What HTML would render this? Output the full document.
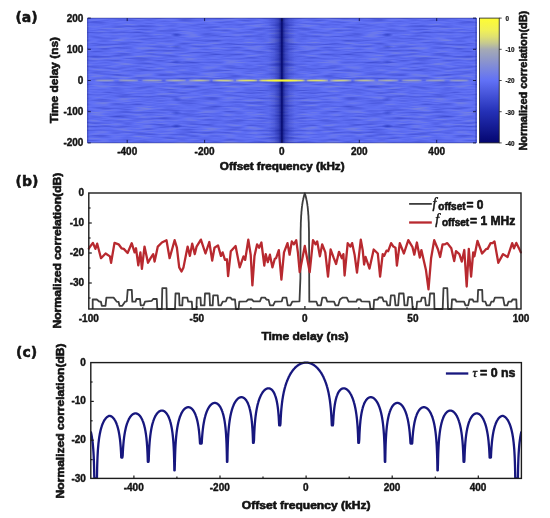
<!DOCTYPE html>
<html><head><meta charset="utf-8"><title>Figure</title>
<style>
html,body{margin:0;padding:0;background:#fff}
svg{display:block;filter:blur(0.4px)}
text{font-family:"Liberation Sans", Arial, Helvetica, sans-serif;font-weight:bold;fill:#141414;stroke:#141414;stroke-width:0.4px;stroke-linejoin:round}
.t{font-size:10px}
.l{font-size:10.6px;stroke-width:0.6px}
.p{font-size:14px;stroke-width:0.5px;font-family:"DejaVu Sans","Liberation Sans",sans-serif}
.it{font-family:"Liberation Serif", "Times New Roman", serif;font-style:italic;font-weight:normal;stroke-width:0.45px;font-size:14px}
</style></head><body>
<svg width="550" height="518" viewBox="0 0 550 518">
<rect width="550" height="518" fill="#fff"/>
<defs>
<filter id="hm" x="0" y="0" width="100%" height="100%" color-interpolation-filters="sRGB">
<feTurbulence type="fractalNoise" baseFrequency="0.045 0.5" numOctaves="2" seed="7" result="n"/>
<feColorMatrix in="n" type="matrix" values="1 0 0 0 0  1 0 0 0 0  1 0 0 0 0  0 0 0 0 1"/>
<feComponentTransfer>
<feFuncR type="table" tableValues="0.224 0.243 0.259 0.278 0.294 0.310 0.329 0.345 0.361 0.380 0.400 0.420 0.435 0.455 0.475 0.494 0.514"/>
<feFuncG type="table" tableValues="0.278 0.294 0.314 0.333 0.349 0.369 0.388 0.404 0.424 0.443 0.459 0.475 0.490 0.506 0.522 0.537 0.557"/>
<feFuncB type="table" tableValues="0.800 0.820 0.839 0.855 0.875 0.890 0.910 0.929 0.945 0.965 0.945 0.929 0.910 0.890 0.871 0.855 0.835"/>
</feComponentTransfer>
</filter>
<radialGradient id="sp"><stop offset="0" stop-color="#1a2ab0" stop-opacity="0.9"/><stop offset="1" stop-color="#1a2ab0" stop-opacity="0"/></radialGradient>
<linearGradient id="cb" x1="0" y1="1" x2="0" y2="0">
<stop offset="0.000" stop-color="#040670"/>
<stop offset="0.050" stop-color="#0a0e7e"/>
<stop offset="0.100" stop-color="#11178c"/>
<stop offset="0.150" stop-color="#171f9a"/>
<stop offset="0.200" stop-color="#1e28a8"/>
<stop offset="0.250" stop-color="#2430b6"/>
<stop offset="0.300" stop-color="#303dc3"/>
<stop offset="0.350" stop-color="#3c4ad0"/>
<stop offset="0.400" stop-color="#4957dc"/>
<stop offset="0.450" stop-color="#5564e9"/>
<stop offset="0.500" stop-color="#6171f6"/>
<stop offset="0.550" stop-color="#6f7ce9"/>
<stop offset="0.600" stop-color="#7c88dc"/>
<stop offset="0.650" stop-color="#8a93ce"/>
<stop offset="0.700" stop-color="#979fc1"/>
<stop offset="0.750" stop-color="#a5aab4"/>
<stop offset="0.800" stop-color="#c6c98f"/>
<stop offset="0.850" stop-color="#dfe071"/>
<stop offset="0.900" stop-color="#f0f058"/>
<stop offset="0.950" stop-color="#f7f645"/>
<stop offset="1.000" stop-color="#fefd32"/>
</linearGradient>
<linearGradient id="vs" x1="0" y1="0" x2="1" y2="0">
<stop offset="0" stop-color="#0a1080" stop-opacity="0"/>
<stop offset="0.2" stop-color="#0a1080" stop-opacity="0.12"/>
<stop offset="0.36" stop-color="#0a1080" stop-opacity="0.32"/>
<stop offset="0.44" stop-color="#081078" stop-opacity="0.58"/>
<stop offset="0.5" stop-color="#04066a" stop-opacity="1"/>
<stop offset="0.56" stop-color="#081078" stop-opacity="0.58"/>
<stop offset="0.64" stop-color="#0a1080" stop-opacity="0.32"/>
<stop offset="0.8" stop-color="#0a1080" stop-opacity="0.12"/>
<stop offset="1" stop-color="#0a1080" stop-opacity="0"/>
</linearGradient>
</defs>
<rect x="87.8" y="18.1" width="388.2" height="124.8" fill="#5e6ef3"/>
<rect id="hl" x="87.8" y="18.1" width="194.6" height="124.8" fill="#5e6ef3" filter="url(#hm)"/>
<use href="#hl" transform="translate(563.90 0) scale(-1 1)"/>
<ellipse cx="176.4" cy="34.9" rx="6" ry="2.2" fill="url(#sp)" opacity="0.64"/>
<ellipse cx="176.4" cy="46.9" rx="6" ry="2.2" fill="url(#sp)" opacity="0.44"/>
<ellipse cx="176.4" cy="61.7" rx="6" ry="2.2" fill="url(#sp)" opacity="0.4"/>
<ellipse cx="176.4" cy="99.2" rx="6" ry="2.2" fill="url(#sp)" opacity="0.4"/>
<ellipse cx="176.4" cy="113" rx="6" ry="2.2" fill="url(#sp)" opacity="0.5"/>
<ellipse cx="176.4" cy="126" rx="6" ry="2.2" fill="url(#sp)" opacity="0.68"/>
<ellipse cx="387.5" cy="34.9" rx="6" ry="2.2" fill="url(#sp)" opacity="0.64"/>
<ellipse cx="387.5" cy="46.9" rx="6" ry="2.2" fill="url(#sp)" opacity="0.44"/>
<ellipse cx="387.5" cy="61.7" rx="6" ry="2.2" fill="url(#sp)" opacity="0.4"/>
<ellipse cx="387.5" cy="99.2" rx="6" ry="2.2" fill="url(#sp)" opacity="0.4"/>
<ellipse cx="387.5" cy="113" rx="6" ry="2.2" fill="url(#sp)" opacity="0.5"/>
<ellipse cx="387.5" cy="126" rx="6" ry="2.2" fill="url(#sp)" opacity="0.68"/>
<rect x="255.9" y="18.1" width="52" height="124.8" fill="url(#vs)" opacity="0.3"/>
<rect x="268.9" y="18.1" width="26" height="124.8" fill="url(#vs)"/>
<linearGradient id="sl" x1="0" y1="0" x2="1" y2="0"><stop offset="0.0020" stop-color="#838ed5" stop-opacity="0.79"/><stop offset="0.0060" stop-color="#7380e4" stop-opacity="0.26"/><stop offset="0.0100" stop-color="#4b5adf" stop-opacity="0.00"/><stop offset="0.0140" stop-color="#6272f5" stop-opacity="0.00"/><stop offset="0.0180" stop-color="#7c87dc" stop-opacity="0.54"/><stop offset="0.0220" stop-color="#8992d0" stop-opacity="0.85"/><stop offset="0.0260" stop-color="#9199c8" stop-opacity="0.85"/><stop offset="0.0300" stop-color="#969ec2" stop-opacity="0.85"/><stop offset="0.0340" stop-color="#9aa1bf" stop-opacity="0.85"/><stop offset="0.0380" stop-color="#9ca2bd" stop-opacity="0.85"/><stop offset="0.0420" stop-color="#9da3bc" stop-opacity="0.85"/><stop offset="0.0460" stop-color="#9ca3bc" stop-opacity="0.85"/><stop offset="0.0500" stop-color="#9aa1be" stop-opacity="0.85"/><stop offset="0.0540" stop-color="#979ec1" stop-opacity="0.85"/><stop offset="0.0580" stop-color="#929ac6" stop-opacity="0.85"/><stop offset="0.0620" stop-color="#8a93ce" stop-opacity="0.85"/><stop offset="0.0660" stop-color="#7c88db" stop-opacity="0.57"/><stop offset="0.0700" stop-color="#6070f5" stop-opacity="0.00"/><stop offset="0.0740" stop-color="#5867ec" stop-opacity="0.00"/><stop offset="0.0780" stop-color="#7a86dd" stop-opacity="0.50"/><stop offset="0.0820" stop-color="#8a93cf" stop-opacity="0.85"/><stop offset="0.0860" stop-color="#939bc6" stop-opacity="0.85"/><stop offset="0.0900" stop-color="#99a0c0" stop-opacity="0.85"/><stop offset="0.0940" stop-color="#9da3bc" stop-opacity="0.85"/><stop offset="0.0980" stop-color="#a0a5b9" stop-opacity="0.85"/><stop offset="0.1020" stop-color="#a1a6b8" stop-opacity="0.85"/><stop offset="0.1060" stop-color="#a1a6b8" stop-opacity="0.85"/><stop offset="0.1100" stop-color="#9fa5b9" stop-opacity="0.85"/><stop offset="0.1140" stop-color="#9da3bc" stop-opacity="0.85"/><stop offset="0.1180" stop-color="#989fc1" stop-opacity="0.85"/><stop offset="0.1220" stop-color="#9199c8" stop-opacity="0.85"/><stop offset="0.1260" stop-color="#8590d3" stop-opacity="0.87"/><stop offset="0.1300" stop-color="#6f7de8" stop-opacity="0.14"/><stop offset="0.1340" stop-color="#404ed4" stop-opacity="0.00"/><stop offset="0.1380" stop-color="#7985df" stop-opacity="0.45"/><stop offset="0.1420" stop-color="#8b94cd" stop-opacity="0.85"/><stop offset="0.1460" stop-color="#959dc3" stop-opacity="0.85"/><stop offset="0.1500" stop-color="#9ca3bc" stop-opacity="0.85"/><stop offset="0.1540" stop-color="#a1a7b8" stop-opacity="0.85"/><stop offset="0.1580" stop-color="#a4a9b5" stop-opacity="0.85"/><stop offset="0.1620" stop-color="#a6abb3" stop-opacity="0.85"/><stop offset="0.1660" stop-color="#a7acb2" stop-opacity="0.85"/><stop offset="0.1700" stop-color="#a5aab4" stop-opacity="0.85"/><stop offset="0.1740" stop-color="#a3a8b6" stop-opacity="0.85"/><stop offset="0.1780" stop-color="#9fa5ba" stop-opacity="0.85"/><stop offset="0.1820" stop-color="#989fc0" stop-opacity="0.85"/><stop offset="0.1860" stop-color="#8e97ca" stop-opacity="0.85"/><stop offset="0.1900" stop-color="#7d88db" stop-opacity="0.58"/><stop offset="0.1940" stop-color="#404ed4" stop-opacity="0.00"/><stop offset="0.1980" stop-color="#7683e1" stop-opacity="0.36"/><stop offset="0.2020" stop-color="#8d95cc" stop-opacity="0.85"/><stop offset="0.2060" stop-color="#99a0c0" stop-opacity="0.85"/><stop offset="0.2100" stop-color="#a0a6b9" stop-opacity="0.85"/><stop offset="0.2140" stop-color="#a6abb2" stop-opacity="0.85"/><stop offset="0.2180" stop-color="#afb3a9" stop-opacity="0.85"/><stop offset="0.2220" stop-color="#b4b8a4" stop-opacity="0.85"/><stop offset="0.2260" stop-color="#b6b9a2" stop-opacity="0.85"/><stop offset="0.2300" stop-color="#b5b8a3" stop-opacity="0.85"/><stop offset="0.2340" stop-color="#b0b4a8" stop-opacity="0.85"/><stop offset="0.2380" stop-color="#a8acb1" stop-opacity="0.85"/><stop offset="0.2420" stop-color="#a1a6b8" stop-opacity="0.85"/><stop offset="0.2460" stop-color="#989fc1" stop-opacity="0.85"/><stop offset="0.2500" stop-color="#8993cf" stop-opacity="0.85"/><stop offset="0.2540" stop-color="#6575f2" stop-opacity="0.00"/><stop offset="0.2580" stop-color="#727fe6" stop-opacity="0.21"/><stop offset="0.2620" stop-color="#8f97ca" stop-opacity="0.85"/><stop offset="0.2660" stop-color="#9da3bc" stop-opacity="0.85"/><stop offset="0.2700" stop-color="#a6abb3" stop-opacity="0.85"/><stop offset="0.2740" stop-color="#b5b8a3" stop-opacity="0.85"/><stop offset="0.2780" stop-color="#bfc198" stop-opacity="0.85"/><stop offset="0.2820" stop-color="#c5c791" stop-opacity="0.85"/><stop offset="0.2860" stop-color="#c8ca8e" stop-opacity="0.85"/><stop offset="0.2900" stop-color="#c8ca8e" stop-opacity="0.85"/><stop offset="0.2940" stop-color="#c4c791" stop-opacity="0.85"/><stop offset="0.2980" stop-color="#bec199" stop-opacity="0.85"/><stop offset="0.3020" stop-color="#b2b6a6" stop-opacity="0.85"/><stop offset="0.3060" stop-color="#a3a8b6" stop-opacity="0.85"/><stop offset="0.3100" stop-color="#979ec2" stop-opacity="0.85"/><stop offset="0.3140" stop-color="#7d88db" stop-opacity="0.59"/><stop offset="0.3180" stop-color="#6877ef" stop-opacity="0.00"/><stop offset="0.3220" stop-color="#929ac7" stop-opacity="0.85"/><stop offset="0.3260" stop-color="#a2a8b7" stop-opacity="0.85"/><stop offset="0.3300" stop-color="#b7bba0" stop-opacity="0.85"/><stop offset="0.3340" stop-color="#c8ca8e" stop-opacity="0.85"/><stop offset="0.3380" stop-color="#d3d581" stop-opacity="0.85"/><stop offset="0.3420" stop-color="#d9da7a" stop-opacity="0.85"/><stop offset="0.3460" stop-color="#dbdc77" stop-opacity="0.85"/><stop offset="0.3500" stop-color="#dcdd76" stop-opacity="0.85"/><stop offset="0.3540" stop-color="#dbdc77" stop-opacity="0.85"/><stop offset="0.3580" stop-color="#d8d97b" stop-opacity="0.85"/><stop offset="0.3620" stop-color="#d0d284" stop-opacity="0.85"/><stop offset="0.3660" stop-color="#c1c495" stop-opacity="0.85"/><stop offset="0.3700" stop-color="#a8adb1" stop-opacity="0.85"/><stop offset="0.3740" stop-color="#929ac6" stop-opacity="0.85"/><stop offset="0.3780" stop-color="#404ed4" stop-opacity="0.00"/><stop offset="0.3820" stop-color="#979ec1" stop-opacity="0.85"/><stop offset="0.3860" stop-color="#b5b8a3" stop-opacity="0.85"/><stop offset="0.3900" stop-color="#d1d383" stop-opacity="0.85"/><stop offset="0.3940" stop-color="#dedf73" stop-opacity="0.85"/><stop offset="0.3980" stop-color="#e5e569" stop-opacity="0.88"/><stop offset="0.4020" stop-color="#eaea61" stop-opacity="0.88"/><stop offset="0.4060" stop-color="#eded5d" stop-opacity="0.88"/><stop offset="0.4100" stop-color="#efef5a" stop-opacity="0.88"/><stop offset="0.4140" stop-color="#efef5a" stop-opacity="0.88"/><stop offset="0.4180" stop-color="#edee5c" stop-opacity="0.88"/><stop offset="0.4220" stop-color="#eaea61" stop-opacity="0.88"/><stop offset="0.4260" stop-color="#e4e569" stop-opacity="0.88"/><stop offset="0.4300" stop-color="#dadb78" stop-opacity="0.85"/><stop offset="0.4340" stop-color="#b8bc9f" stop-opacity="0.85"/><stop offset="0.4380" stop-color="#7d88db" stop-opacity="0.59"/><stop offset="0.4420" stop-color="#a3a9b6" stop-opacity="0.85"/><stop offset="0.4460" stop-color="#dcdd76" stop-opacity="0.85"/><stop offset="0.4500" stop-color="#eeee5b" stop-opacity="0.88"/><stop offset="0.4540" stop-color="#f4f44c" stop-opacity="0.88"/><stop offset="0.4580" stop-color="#efef5a" stop-opacity="0.88"/><stop offset="0.4620" stop-color="#f3f251" stop-opacity="0.95"/><stop offset="0.4660" stop-color="#f5f54a" stop-opacity="0.95"/><stop offset="0.4700" stop-color="#f7f744" stop-opacity="0.95"/><stop offset="0.4740" stop-color="#f9f93f" stop-opacity="0.95"/><stop offset="0.4780" stop-color="#fbfa3b" stop-opacity="0.95"/><stop offset="0.4820" stop-color="#fcfb38" stop-opacity="0.95"/><stop offset="0.4860" stop-color="#fdfc36" stop-opacity="0.95"/><stop offset="0.4900" stop-color="#fdfc34" stop-opacity="0.95"/><stop offset="0.4940" stop-color="#fefd33" stop-opacity="0.95"/><stop offset="0.4980" stop-color="#fefd32" stop-opacity="0.95"/><stop offset="0.5020" stop-color="#fefd32" stop-opacity="0.95"/><stop offset="0.5060" stop-color="#fefd33" stop-opacity="0.95"/><stop offset="0.5100" stop-color="#fdfc34" stop-opacity="0.95"/><stop offset="0.5140" stop-color="#fdfc36" stop-opacity="0.95"/><stop offset="0.5180" stop-color="#fcfb38" stop-opacity="0.95"/><stop offset="0.5220" stop-color="#fbfa3b" stop-opacity="0.95"/><stop offset="0.5260" stop-color="#f9f93f" stop-opacity="0.95"/><stop offset="0.5300" stop-color="#f7f744" stop-opacity="0.95"/><stop offset="0.5340" stop-color="#f5f54a" stop-opacity="0.95"/><stop offset="0.5380" stop-color="#f3f251" stop-opacity="0.95"/><stop offset="0.5420" stop-color="#efef5a" stop-opacity="0.88"/><stop offset="0.5460" stop-color="#f4f44c" stop-opacity="0.88"/><stop offset="0.5500" stop-color="#eeee5b" stop-opacity="0.88"/><stop offset="0.5540" stop-color="#dcdd76" stop-opacity="0.85"/><stop offset="0.5580" stop-color="#a3a9b6" stop-opacity="0.85"/><stop offset="0.5620" stop-color="#7d88db" stop-opacity="0.59"/><stop offset="0.5660" stop-color="#b8bc9f" stop-opacity="0.85"/><stop offset="0.5700" stop-color="#dadb78" stop-opacity="0.85"/><stop offset="0.5740" stop-color="#e4e569" stop-opacity="0.88"/><stop offset="0.5780" stop-color="#eaea61" stop-opacity="0.88"/><stop offset="0.5820" stop-color="#edee5c" stop-opacity="0.88"/><stop offset="0.5860" stop-color="#efef5a" stop-opacity="0.88"/><stop offset="0.5900" stop-color="#efef5a" stop-opacity="0.88"/><stop offset="0.5940" stop-color="#eded5d" stop-opacity="0.88"/><stop offset="0.5980" stop-color="#eaea61" stop-opacity="0.88"/><stop offset="0.6020" stop-color="#e5e569" stop-opacity="0.88"/><stop offset="0.6060" stop-color="#dedf73" stop-opacity="0.85"/><stop offset="0.6100" stop-color="#d1d383" stop-opacity="0.85"/><stop offset="0.6140" stop-color="#b5b8a3" stop-opacity="0.85"/><stop offset="0.6180" stop-color="#979ec1" stop-opacity="0.85"/><stop offset="0.6220" stop-color="#404ed4" stop-opacity="0.00"/><stop offset="0.6260" stop-color="#929ac6" stop-opacity="0.85"/><stop offset="0.6300" stop-color="#a8adb1" stop-opacity="0.85"/><stop offset="0.6340" stop-color="#c1c495" stop-opacity="0.85"/><stop offset="0.6380" stop-color="#d0d284" stop-opacity="0.85"/><stop offset="0.6420" stop-color="#d8d97b" stop-opacity="0.85"/><stop offset="0.6460" stop-color="#dbdc77" stop-opacity="0.85"/><stop offset="0.6500" stop-color="#dcdd76" stop-opacity="0.85"/><stop offset="0.6540" stop-color="#dbdc77" stop-opacity="0.85"/><stop offset="0.6580" stop-color="#d9da7a" stop-opacity="0.85"/><stop offset="0.6620" stop-color="#d3d581" stop-opacity="0.85"/><stop offset="0.6660" stop-color="#c8ca8e" stop-opacity="0.85"/><stop offset="0.6700" stop-color="#b7bba0" stop-opacity="0.85"/><stop offset="0.6740" stop-color="#a2a8b7" stop-opacity="0.85"/><stop offset="0.6780" stop-color="#929ac7" stop-opacity="0.85"/><stop offset="0.6820" stop-color="#6877ef" stop-opacity="0.00"/><stop offset="0.6860" stop-color="#7d88db" stop-opacity="0.59"/><stop offset="0.6900" stop-color="#979ec2" stop-opacity="0.85"/><stop offset="0.6940" stop-color="#a3a8b6" stop-opacity="0.85"/><stop offset="0.6980" stop-color="#b2b6a6" stop-opacity="0.85"/><stop offset="0.7020" stop-color="#bec199" stop-opacity="0.85"/><stop offset="0.7060" stop-color="#c4c791" stop-opacity="0.85"/><stop offset="0.7100" stop-color="#c8ca8e" stop-opacity="0.85"/><stop offset="0.7140" stop-color="#c8ca8e" stop-opacity="0.85"/><stop offset="0.7180" stop-color="#c5c791" stop-opacity="0.85"/><stop offset="0.7220" stop-color="#bfc198" stop-opacity="0.85"/><stop offset="0.7260" stop-color="#b5b8a3" stop-opacity="0.85"/><stop offset="0.7300" stop-color="#a6abb3" stop-opacity="0.85"/><stop offset="0.7340" stop-color="#9da3bc" stop-opacity="0.85"/><stop offset="0.7380" stop-color="#8f97ca" stop-opacity="0.85"/><stop offset="0.7420" stop-color="#727fe6" stop-opacity="0.21"/><stop offset="0.7460" stop-color="#6575f2" stop-opacity="0.00"/><stop offset="0.7500" stop-color="#8993cf" stop-opacity="0.85"/><stop offset="0.7540" stop-color="#989fc1" stop-opacity="0.85"/><stop offset="0.7580" stop-color="#a1a6b8" stop-opacity="0.85"/><stop offset="0.7620" stop-color="#a8acb1" stop-opacity="0.85"/><stop offset="0.7660" stop-color="#b0b4a8" stop-opacity="0.85"/><stop offset="0.7700" stop-color="#b5b8a3" stop-opacity="0.85"/><stop offset="0.7740" stop-color="#b6b9a2" stop-opacity="0.85"/><stop offset="0.7780" stop-color="#b4b8a4" stop-opacity="0.85"/><stop offset="0.7820" stop-color="#afb3a9" stop-opacity="0.85"/><stop offset="0.7860" stop-color="#a6abb2" stop-opacity="0.85"/><stop offset="0.7900" stop-color="#a0a6b9" stop-opacity="0.85"/><stop offset="0.7940" stop-color="#99a0c0" stop-opacity="0.85"/><stop offset="0.7980" stop-color="#8d95cc" stop-opacity="0.85"/><stop offset="0.8020" stop-color="#7683e1" stop-opacity="0.36"/><stop offset="0.8060" stop-color="#404ed4" stop-opacity="0.00"/><stop offset="0.8100" stop-color="#7d88db" stop-opacity="0.58"/><stop offset="0.8140" stop-color="#8e97ca" stop-opacity="0.85"/><stop offset="0.8180" stop-color="#989fc0" stop-opacity="0.85"/><stop offset="0.8220" stop-color="#9fa5ba" stop-opacity="0.85"/><stop offset="0.8260" stop-color="#a3a8b6" stop-opacity="0.85"/><stop offset="0.8300" stop-color="#a5aab4" stop-opacity="0.85"/><stop offset="0.8340" stop-color="#a7acb2" stop-opacity="0.85"/><stop offset="0.8380" stop-color="#a6abb3" stop-opacity="0.85"/><stop offset="0.8420" stop-color="#a4a9b5" stop-opacity="0.85"/><stop offset="0.8460" stop-color="#a1a7b8" stop-opacity="0.85"/><stop offset="0.8500" stop-color="#9ca3bc" stop-opacity="0.85"/><stop offset="0.8540" stop-color="#959dc3" stop-opacity="0.85"/><stop offset="0.8580" stop-color="#8b94cd" stop-opacity="0.85"/><stop offset="0.8620" stop-color="#7985df" stop-opacity="0.45"/><stop offset="0.8660" stop-color="#404ed4" stop-opacity="0.00"/><stop offset="0.8700" stop-color="#6f7de8" stop-opacity="0.14"/><stop offset="0.8740" stop-color="#8590d3" stop-opacity="0.87"/><stop offset="0.8780" stop-color="#9199c8" stop-opacity="0.85"/><stop offset="0.8820" stop-color="#989fc1" stop-opacity="0.85"/><stop offset="0.8860" stop-color="#9da3bc" stop-opacity="0.85"/><stop offset="0.8900" stop-color="#9fa5b9" stop-opacity="0.85"/><stop offset="0.8940" stop-color="#a1a6b8" stop-opacity="0.85"/><stop offset="0.8980" stop-color="#a1a6b8" stop-opacity="0.85"/><stop offset="0.9020" stop-color="#a0a5b9" stop-opacity="0.85"/><stop offset="0.9060" stop-color="#9da3bc" stop-opacity="0.85"/><stop offset="0.9100" stop-color="#99a0c0" stop-opacity="0.85"/><stop offset="0.9140" stop-color="#939bc6" stop-opacity="0.85"/><stop offset="0.9180" stop-color="#8a93cf" stop-opacity="0.85"/><stop offset="0.9220" stop-color="#7a86dd" stop-opacity="0.50"/><stop offset="0.9260" stop-color="#5867ec" stop-opacity="0.00"/><stop offset="0.9300" stop-color="#6070f5" stop-opacity="0.00"/><stop offset="0.9340" stop-color="#7c88db" stop-opacity="0.57"/><stop offset="0.9380" stop-color="#8a93ce" stop-opacity="0.85"/><stop offset="0.9420" stop-color="#929ac6" stop-opacity="0.85"/><stop offset="0.9460" stop-color="#979ec1" stop-opacity="0.85"/><stop offset="0.9500" stop-color="#9aa1be" stop-opacity="0.85"/><stop offset="0.9540" stop-color="#9ca3bc" stop-opacity="0.85"/><stop offset="0.9580" stop-color="#9da3bc" stop-opacity="0.85"/><stop offset="0.9620" stop-color="#9ca2bd" stop-opacity="0.85"/><stop offset="0.9660" stop-color="#9aa1bf" stop-opacity="0.85"/><stop offset="0.9700" stop-color="#969ec2" stop-opacity="0.85"/><stop offset="0.9740" stop-color="#9199c8" stop-opacity="0.85"/><stop offset="0.9780" stop-color="#8992d0" stop-opacity="0.85"/><stop offset="0.9820" stop-color="#7c87dc" stop-opacity="0.54"/><stop offset="0.9860" stop-color="#6272f5" stop-opacity="0.00"/><stop offset="0.9900" stop-color="#4b5adf" stop-opacity="0.00"/><stop offset="0.9940" stop-color="#7380e4" stop-opacity="0.26"/><stop offset="0.9980" stop-color="#838ed5" stop-opacity="0.79"/></linearGradient>
<linearGradient id="sl2" x1="0" y1="0" x2="1" y2="0"><stop offset="0" stop-color="#fdfc32" stop-opacity="0"/><stop offset="0.3" stop-color="#fdfc32" stop-opacity="1"/><stop offset="0.7" stop-color="#fdfc32" stop-opacity="1"/><stop offset="1" stop-color="#fdfc32" stop-opacity="0"/></linearGradient>
<rect x="88.55" y="79.60" width="386.80" height="1.8" fill="url(#sl)"/>
<rect x="266.5" y="79.50" width="30.9" height="2.0" fill="url(#sl2)" opacity="0.6"/>
<rect x="87.8" y="18.1" width="388.2" height="124.8" fill="none" stroke="#1a1f6a" stroke-opacity="0.55" stroke-width="0.8"/>
<path d="M127.2 142.9v-3M127.2 18.1v3" stroke="#10144a" stroke-width="0.9"/>
<text x="127.2" y="155.1" class="t" text-anchor="middle">-400</text>
<path d="M204.6 142.9v-3M204.6 18.1v3" stroke="#10144a" stroke-width="0.9"/>
<text x="204.6" y="155.1" class="t" text-anchor="middle">-200</text>
<path d="M281.9 142.9v-3M281.9 18.1v3" stroke="#10144a" stroke-width="0.9"/>
<text x="281.9" y="155.1" class="t" text-anchor="middle">0</text>
<path d="M359.3 142.9v-3M359.3 18.1v3" stroke="#10144a" stroke-width="0.9"/>
<text x="359.3" y="155.1" class="t" text-anchor="middle">200</text>
<path d="M436.7 142.9v-3M436.7 18.1v3" stroke="#10144a" stroke-width="0.9"/>
<text x="436.7" y="155.1" class="t" text-anchor="middle">400</text>
<path d="M87.8 18.1h3M476.0 18.1h-3" stroke="#10144a" stroke-width="0.9"/>
<text x="83.4" y="21.5" class="t" text-anchor="end">200</text>
<path d="M87.8 49.3h3M476.0 49.3h-3" stroke="#10144a" stroke-width="0.9"/>
<text x="83.4" y="52.7" class="t" text-anchor="end">100</text>
<path d="M87.8 80.5h3M476.0 80.5h-3" stroke="#10144a" stroke-width="0.9"/>
<text x="83.4" y="83.9" class="t" text-anchor="end">0</text>
<path d="M87.8 111.7h3M476.0 111.7h-3" stroke="#10144a" stroke-width="0.9"/>
<text x="83.4" y="115.1" class="t" text-anchor="end">-100</text>
<path d="M87.8 142.9h3M476.0 142.9h-3" stroke="#10144a" stroke-width="0.9"/>
<text x="83.4" y="146.3" class="t" text-anchor="end">-200</text>
<text x="219.8" y="169.6" class="l" textLength="124.8" lengthAdjust="spacingAndGlyphs">Offset frequency (kHz)</text>
<text transform="translate(58.1 123.3) rotate(-90)" class="l" textLength="86.3" lengthAdjust="spacingAndGlyphs">Time delay (ns)</text>
<text x="15.4" y="22" class="p">(a)</text>
<rect x="479.4" y="18.1" width="19.8" height="124.8" fill="url(#cb)" stroke="#1c1c1c" stroke-width="0.8"/>
<path d="M499.2 18.1h2.5" stroke="#1c1c1c" stroke-width="0.8"/>
<text x="505.5" y="21.0" class="t" style="font-size:6.3px;stroke-width:0.2px">0</text>
<path d="M499.2 49.3h2.5" stroke="#1c1c1c" stroke-width="0.8"/>
<text x="505.5" y="52.2" class="t" style="font-size:6.3px;stroke-width:0.2px">-10</text>
<path d="M499.2 80.5h2.5" stroke="#1c1c1c" stroke-width="0.8"/>
<text x="505.5" y="83.4" class="t" style="font-size:6.3px;stroke-width:0.2px">-20</text>
<path d="M499.2 111.7h2.5" stroke="#1c1c1c" stroke-width="0.8"/>
<text x="505.5" y="114.6" class="t" style="font-size:6.3px;stroke-width:0.2px">-30</text>
<path d="M499.2 142.9h2.5" stroke="#1c1c1c" stroke-width="0.8"/>
<text x="505.5" y="145.8" class="t" style="font-size:6.3px;stroke-width:0.2px">-40</text>
<text transform="translate(527.3 80.7) rotate(-90)" class="l" text-anchor="middle" style="font-size:10.9px">Normalized correlation(dB)</text>
<rect x="88.8" y="193.0" width="432.2" height="116.0" fill="#fff"/>
<polyline points="92.7,309.0 92.7,299.5 96.8,299.5 99.5,301.7 100.9,301.7 101.8,305.8 105.5,305.8 106.4,297.6 113.6,297.6 116.8,301.7 118.6,302.0 119.5,305.8 122.3,305.8 125.0,301.7 126.8,301.3 127.7,289.9 131.8,289.9 132.3,301.7 135.5,301.7 136.4,299.0 140.0,299.0 140.7,305.4 143.6,305.4 145.0,301.7 151.8,300.8 153.2,299.0 156.8,299.0 157.3,309.0 161.8,309.0 162.3,288.1 166.4,288.1 166.8,309.0 175.0,309.0 175.5,293.5 179.1,293.5 179.5,305.4 182.3,305.4 182.7,297.6 187.3,297.6 188.2,301.7 191.8,301.7 192.3,309.0 196.4,309.0 196.8,297.6 200.5,297.6 200.9,305.4 204.5,305.4 205.0,293.5 209.5,293.5 210.0,305.4 212.7,305.4 213.2,295.4 217.7,295.4 218.5,305.4 220.9,305.4 222.7,301.7 225.9,301.3 227.3,297.6 230.5,297.6 231.8,299.5 235.0,299.5 235.9,309.0 238.6,309.0 239.3,301.7 246.4,301.3 248.2,299.5 251.8,299.5 253.6,301.3 260.0,301.3 261.4,297.6 265.0,297.6 266.4,299.5 268.6,299.9 270.0,305.4 273.2,305.4 275.0,301.7 281.8,301.3 282.7,297.6 286.4,297.6 287.7,305.4 290.5,305.4 292.3,301.7 299.5,301.3 300.4,278.1 300.5,245.6 300.6,237.2 300.6,232.1 300.7,228.4 300.8,225.6 300.8,223.2 300.9,221.2 301.0,219.5 301.1,218.0 301.1,216.6 301.2,215.4 301.3,214.3 301.4,213.3 301.4,212.3 301.5,211.4 301.6,210.6 301.7,209.8 301.7,209.0 301.8,208.3 301.9,207.7 301.9,207.0 302.0,206.4 302.1,205.9 302.2,205.3 302.2,204.8 302.3,204.3 302.4,203.8 302.5,203.3 302.5,202.9 302.6,202.4 302.7,202.0 302.7,201.6 302.8,201.2 302.9,200.8 303.0,200.4 303.0,200.0 303.1,199.7 303.2,199.3 303.3,199.0 303.3,198.7 303.4,198.4 303.5,198.0 303.6,197.7 303.6,197.4 303.7,197.1 303.8,196.9 303.8,196.6 303.9,196.3 304.0,196.0 304.1,195.8 304.1,195.5 304.2,195.3 304.3,195.0 304.4,194.8 304.4,194.5 304.5,194.3 304.6,194.1 304.7,193.8 304.7,193.6 304.8,193.4 304.9,193.6 304.9,193.8 305.0,194.1 305.1,194.3 305.2,194.5 305.2,194.8 305.3,195.0 305.4,195.3 305.5,195.5 305.5,195.8 305.6,196.0 305.7,196.3 305.8,196.6 305.8,196.9 305.9,197.1 306.0,197.4 306.0,197.7 306.1,198.0 306.2,198.4 306.3,198.7 306.3,199.0 306.4,199.3 306.5,199.7 306.6,200.0 306.6,200.4 306.7,200.8 306.8,201.2 306.9,201.6 306.9,202.0 307.0,202.4 307.1,202.9 307.1,203.3 307.2,203.8 307.3,204.3 307.4,204.8 307.4,205.3 307.5,205.9 307.6,206.4 307.7,207.0 307.7,207.7 307.8,208.3 307.9,209.0 307.9,209.8 308.0,210.6 308.1,211.4 308.2,212.3 308.2,213.3 308.3,214.3 308.4,215.4 308.5,216.6 308.5,218.0 308.6,219.5 308.7,221.2 308.8,223.2 308.8,225.6 308.9,228.4 309.0,232.1 309.0,237.2 309.1,245.6 309.2,278.1 309.3,301.7 316.4,301.7 317.7,305.4 320.9,305.4 322.3,297.6 325.9,297.6 327.3,301.7 334.1,301.7 335.5,305.4 338.2,305.4 340.0,299.5 342.7,297.6 346.8,297.6 348.6,301.7 356.4,301.7 357.3,299.5 360.5,299.5 361.4,301.3 369.5,301.7 370.5,309.0 373.5,309.0 374.1,299.9 377.7,299.5 378.9,297.5 382.3,297.5 383.6,301.3 386.4,301.3 387.3,305.4 390.0,305.4 390.9,295.4 394.5,295.4 395.5,305.4 398.2,305.4 399.1,293.5 403.6,293.5 404.5,305.4 407.3,305.4 408.2,297.2 411.8,297.2 412.7,309.0 416.4,309.0 417.1,301.7 420.9,301.3 421.8,297.6 425.0,297.6 425.9,305.4 429.1,305.4 430.0,293.5 434.1,293.5 434.5,309.0 442.7,309.0 443.5,288.1 447.3,288.1 448.0,309.0 451.4,309.0 452.0,299.5 455.5,299.5 456.4,301.7 464.1,301.7 465.5,305.4 468.2,305.4 469.5,299.5 472.7,299.5 473.6,301.7 477.6,301.7 478.1,289.9 482.2,289.9 482.6,301.3 485.4,301.7 486.7,305.4 489.9,305.4 491.3,301.7 493.5,301.7 494.9,297.6 503.1,297.6 504.5,305.4 507.2,305.4 508.5,301.7 511.3,301.7 512.6,299.5 516.3,299.5 516.7,309.0" fill="none" stroke="#3e3e3e" stroke-width="1.8" stroke-linejoin="round"/>
<polyline points="88.9,248.6 89.6,247.2 92.9,242.9 95.4,248.9 97.2,243.7 101.0,258.2 105.6,253.5 109.9,256.4 111.1,262.8 114.5,242.9 118.6,244.3 121.5,248.3 123.8,248.9 127.6,253.0 131.7,243.2 134.6,252.4 136.0,248.3 138.3,265.3 140.4,252.4 141.9,268.8 144.5,246.6 148.0,262.8 150.9,257.6 153.2,254.1 154.6,261.6 157.8,246.6 161.9,242.5 166.5,240.2 169.6,258.2 174.6,240.2 176.9,247.7 179.2,267.4 181.5,271.5 183.5,267.4 187.6,246.6 189.9,255.9 192.2,243.7 194.8,254.1 196.6,246.6 200.9,239.6 205.5,253.5 209.3,242.0 212.2,260.5 214.5,247.7 218.0,245.4 220.9,255.9 222.6,252.4 225.0,259.9 226.9,259.3 228.1,276.1 230.8,251.2 235.6,246.0 239.7,267.4 243.5,256.4 245.2,259.9 248.3,239.6 250.7,254.7 252.4,285.4 254.5,255.9 257.1,244.3 259.1,247.7 261.4,242.5 264.3,265.7 265.7,254.1 267.8,262.2 269.9,254.7 272.4,267.4 274.8,258.7 276.1,258.2 278.8,250.1 281.4,279.6 284.0,252.4 287.5,243.1 289.6,254.7 291.8,241.4 293.9,244.3 296.2,240.2 297.9,252.4 299.7,272.1 304.8,246.0 309.7,272.1 313.0,240.2 315.6,244.3 317.2,241.4 319.9,256.4 322.2,244.3 325.3,252.4 328.0,276.7 330.6,249.5 333.8,258.2 336.1,264.0 339.0,251.8 341.9,258.2 343.4,254.1 344.6,275.5 347.7,243.1 350.4,246.6 352.1,243.1 354.6,254.7 357.0,272.6 360.8,239.6 362.7,250.1 364.1,264.5 365.6,257.0 369.5,268.6 373.7,249.5 377.8,253.5 380.1,276.7 382.7,254.1 384.2,255.9 386.5,250.6 388.2,251.2 391.1,243.1 393.4,246.6 395.5,247.7 396.9,265.7 399.8,243.1 403.9,253.5 408.3,240.2 412.5,247.2 414.3,254.7 416.9,242.5 419.8,257.6 421.4,250.1 425.9,269.7 428.5,289.4 431.1,258.2 434.2,240.2 438.0,249.5 440.1,257.0 442.6,244.3 445.0,244.3 447.3,243.1 451.3,248.3 454.2,261.1 456.0,251.2 459.4,254.1 461.8,261.6 464.3,250.0 466.7,286.5 468.8,248.9 471.1,276.7 473.2,252.4 474.4,256.4 477.5,240.8 482.1,253.5 486.2,248.9 487.6,248.9 490.6,243.1 492.5,243.1 494.5,241.4 498.3,262.8 503.0,254.1 507.6,257.0 512.2,243.1 514.0,248.3 516.3,242.9 519.8,250.1 520.8,252.4" fill="none" stroke="#b8292f" stroke-width="2.3" stroke-linejoin="round" stroke-linecap="round"/>
<rect x="88.8" y="193.0" width="432.2" height="116.0" fill="none" stroke="#1c1c1c" stroke-width="1.4"/>
<text x="88.8" y="321.8" class="t" text-anchor="middle">-100</text>
<path d="M196.8 309.0v-3" stroke="#1c1c1c" stroke-width="1.2"/>
<text x="196.8" y="321.8" class="t" text-anchor="middle">-50</text>
<path d="M304.9 309.0v-3" stroke="#1c1c1c" stroke-width="1.2"/>
<text x="304.9" y="321.8" class="t" text-anchor="middle">0</text>
<path d="M412.9 309.0v-3" stroke="#1c1c1c" stroke-width="1.2"/>
<text x="412.9" y="321.8" class="t" text-anchor="middle">50</text>
<text x="521.0" y="321.8" class="t" text-anchor="middle">100</text>
<path d="M142.8 309.0v-1.8" stroke="#1c1c1c" stroke-width="1.2"/>
<path d="M250.9 309.0v-1.8" stroke="#1c1c1c" stroke-width="1.2"/>
<path d="M358.9 309.0v-1.8" stroke="#1c1c1c" stroke-width="1.2"/>
<path d="M467.0 309.0v-1.8" stroke="#1c1c1c" stroke-width="1.2"/>
<text x="84.1" y="196.0" class="t" text-anchor="end">0</text>
<path d="M88.8 223.0h3" stroke="#1c1c1c" stroke-width="1.2"/>
<text x="84.1" y="226.0" class="t" text-anchor="end">-10</text>
<path d="M88.8 253.0h3" stroke="#1c1c1c" stroke-width="1.2"/>
<text x="84.1" y="256.0" class="t" text-anchor="end">-20</text>
<path d="M88.8 283.0h3" stroke="#1c1c1c" stroke-width="1.2"/>
<text x="84.1" y="286.0" class="t" text-anchor="end">-30</text>
<path d="M88.8 208.0h1.8" stroke="#1c1c1c" stroke-width="1.2"/>
<path d="M88.8 238.0h1.8" stroke="#1c1c1c" stroke-width="1.2"/>
<path d="M88.8 268.0h1.8" stroke="#1c1c1c" stroke-width="1.2"/>
<path d="M88.8 298.0h1.8" stroke="#1c1c1c" stroke-width="1.2"/>
<text x="261.4" y="339.9" class="l" textLength="87.2" lengthAdjust="spacingAndGlyphs">Time delay (ns)</text>
<text transform="translate(61.3 328.6) rotate(-90)" class="l" textLength="156" lengthAdjust="spacingAndGlyphs">Normalized correlation(dB)</text>
<text x="15.6" y="186" class="p">(b)</text>
<path d="M409.1 203.9H431.8" stroke="#3e3e3e" stroke-width="1.8"/>
<path d="M409.1 222.5H431.8" stroke="#b8292f" stroke-width="2.3"/>
<text y="208.5" class="l" style="font-size:11.9px"><tspan class="it" x="432.6" y="207.9">f</tspan><tspan x="438.3" y="210" style="font-size:10px">offset</tspan><tspan x="466.4" y="208.5" textLength="16.9" lengthAdjust="spacingAndGlyphs">= 0</tspan></text>
<text y="224.9" class="l" style="font-size:11.9px"><tspan class="it" x="435.3" y="224.3">f</tspan><tspan x="441.9" y="226.4" style="font-size:10px">offset</tspan><tspan x="470" y="224.9" textLength="45.4" lengthAdjust="spacingAndGlyphs">= 1 MHz</tspan></text>
<rect x="90.8" y="362.6" width="430.6" height="115.8" fill="#fff"/>
<clipPath id="cc"><rect x="90.8" y="360.6" width="430.6" height="117.8"/></clipPath>
<polyline clip-path="url(#cc)" points="90.80,431.53 90.91,431.98 91.02,432.46 91.12,432.95 91.23,433.45 91.34,433.98 91.45,434.53 91.55,435.10 91.66,435.69 91.77,436.31 91.88,436.95 91.98,437.63 92.09,438.33 92.20,439.07 92.31,439.85 92.41,440.67 92.52,441.54 92.63,442.45 92.74,443.43 92.85,444.46 92.95,445.57 93.06,446.77 93.17,448.05 93.28,449.45 93.38,450.98 93.49,452.66 93.60,454.54 93.71,456.66 93.81,459.09 93.92,461.94 94.03,465.38 94.14,469.71 94.24,475.57 94.35,478.40 94.68,478.40 95.00,478.40 95.32,478.40 95.64,478.40 95.97,478.40 96.29,478.40 96.61,478.40 96.94,478.40 97.04,472.93 97.15,467.78 97.26,463.84 97.37,460.64 97.47,457.96 97.58,455.65 97.69,453.61 97.80,451.80 97.90,450.16 98.01,448.67 98.12,447.30 98.23,446.04 98.34,444.87 98.44,443.77 98.55,442.74 98.66,441.78 98.77,440.86 98.87,440.00 98.98,439.18 99.09,438.40 99.20,437.65 99.30,436.94 99.41,436.26 99.52,435.61 99.63,434.99 99.73,434.39 99.84,433.81 99.95,433.25 100.06,432.72 100.17,432.20 100.27,431.70 100.38,431.22 100.49,430.75 100.60,430.30 100.70,429.86 100.81,429.43 100.92,429.02 101.03,428.62 101.13,428.23 101.24,427.85 101.35,427.48 101.46,427.13 101.56,426.78 101.67,426.44 101.78,426.11 101.89,425.79 102.00,425.48 102.10,425.18 102.21,424.88 102.32,424.59 102.43,424.31 102.53,424.04 102.64,423.77 102.75,423.51 102.86,423.26 102.96,423.01 103.07,422.77 103.18,422.53 103.29,422.30 103.40,422.08 103.50,421.86 103.61,421.65 103.72,421.44 103.83,421.23 103.93,421.04 104.04,420.84 104.15,420.65 104.26,420.47 104.36,420.29 104.47,420.11 104.58,419.94 104.69,419.78 104.79,419.61 104.90,419.46 105.01,419.30 105.12,419.15 105.23,419.01 105.44,418.73 105.66,418.46 105.87,418.21 106.09,417.97 106.30,417.75 106.52,417.54 106.73,417.34 106.95,417.16 107.16,416.99 107.38,416.83 107.59,416.68 107.81,416.55 108.02,416.43 108.24,416.32 108.45,416.22 108.67,416.13 108.78,415.84 109.10,415.83 109.42,415.84 109.75,415.87 109.96,415.91 110.18,415.96 110.39,416.02 110.61,416.09 110.82,416.17 111.04,416.27 111.25,416.38 111.47,416.50 111.68,416.63 111.90,416.77 112.11,416.93 112.33,417.10 112.55,417.28 112.76,417.48 112.98,417.69 113.19,417.92 113.41,418.16 113.62,418.41 113.84,418.69 114.05,418.98 114.16,419.13 114.27,419.28 114.38,419.44 114.48,419.60 114.59,419.77 114.70,419.95 114.81,420.12 114.91,420.31 115.02,420.49 115.13,420.69 115.24,420.89 115.34,421.09 115.45,421.30 115.56,421.51 115.67,421.74 115.77,421.96 115.88,422.20 115.99,422.43 116.10,422.68 116.21,422.93 116.31,423.19 116.42,423.46 116.53,423.73 116.64,424.02 116.74,424.31 116.85,424.60 116.96,424.91 117.07,425.23 117.17,425.55 117.28,425.89 117.39,426.23 117.50,426.59 117.60,426.95 117.71,427.33 117.82,427.72 117.93,428.12 118.04,428.54 118.14,428.96 118.25,429.41 118.36,429.87 118.47,430.34 118.57,430.83 118.68,431.34 118.79,431.87 118.90,432.42 119.00,433.00 119.11,433.59 119.22,434.22 119.33,434.87 119.43,435.54 119.54,436.26 119.65,437.00 119.76,437.79 119.87,438.62 119.97,439.49 120.08,440.42 120.19,441.40 120.30,442.45 120.40,443.57 120.51,444.78 120.62,446.09 120.73,447.51 120.83,449.06 120.94,450.78 121.05,452.70 121.16,454.88 121.26,457.38 121.37,457.66 121.70,457.66 122.02,457.66 122.34,457.66 122.66,455.70 122.77,453.39 122.88,451.35 122.99,449.54 123.09,447.90 123.20,446.41 123.31,445.04 123.42,443.77 123.53,442.60 123.63,441.50 123.74,440.47 123.85,439.50 123.96,438.59 124.06,437.72 124.17,436.90 124.28,436.12 124.39,435.38 124.49,434.66 124.60,433.98 124.71,433.33 124.82,432.71 124.93,432.10 125.03,431.52 125.14,430.97 125.25,430.43 125.36,429.91 125.46,429.41 125.57,428.92 125.68,428.45 125.79,428.00 125.89,427.56 126.00,427.13 126.11,426.72 126.22,426.32 126.32,425.93 126.43,425.55 126.54,425.18 126.65,424.82 126.76,424.47 126.86,424.13 126.97,423.80 127.08,423.48 127.19,423.17 127.29,422.86 127.40,422.57 127.51,422.28 127.62,422.00 127.72,421.72 127.83,421.45 127.94,421.19 128.05,420.94 128.15,420.69 128.26,420.44 128.37,420.21 128.48,419.97 128.59,419.75 128.69,419.53 128.80,419.31 128.91,419.10 129.02,418.90 129.12,418.70 129.23,418.50 129.34,418.31 129.45,418.13 129.55,417.95 129.66,417.77 129.77,417.60 129.88,417.43 129.98,417.27 130.09,417.11 130.20,416.95 130.31,416.80 130.42,416.66 130.52,416.51 130.74,416.24 130.95,415.97 131.17,415.73 131.38,415.50 131.60,415.28 131.81,415.07 132.03,414.88 132.25,414.70 132.46,414.53 132.68,414.37 132.89,414.23 133.11,414.10 133.32,413.98 133.54,413.87 133.75,413.78 133.97,413.69 134.18,413.62 134.40,413.56 134.61,413.50 134.83,413.46 135.15,413.42 135.47,413.41 135.80,413.42 136.12,413.46 136.34,413.49 136.55,413.54 136.77,413.61 136.98,413.68 137.20,413.76 137.41,413.86 137.63,413.97 137.84,414.09 138.06,414.22 138.27,414.36 138.49,414.52 138.70,414.69 138.92,414.88 139.13,415.08 139.35,415.29 139.57,415.52 139.78,415.76 140.00,416.02 140.21,416.29 140.32,416.43 140.43,416.58 140.53,416.73 140.64,416.89 140.75,417.05 140.86,417.21 140.96,417.38 141.07,417.56 141.18,417.74 141.29,417.92 141.40,418.11 141.50,418.31 141.61,418.51 141.72,418.71 141.83,418.92 141.93,419.14 142.04,419.36 142.15,419.59 142.26,419.83 142.36,420.07 142.47,420.32 142.58,420.57 142.69,420.84 142.79,421.11 142.90,421.38 143.01,421.67 143.12,421.96 143.23,422.26 143.33,422.57 143.44,422.89 143.55,423.22 143.66,423.56 143.76,423.91 143.87,424.27 143.98,424.64 144.09,425.03 144.19,425.42 144.30,425.83 144.41,426.25 144.52,426.69 144.62,427.14 144.73,427.60 144.84,428.09 144.95,428.59 145.06,429.11 145.16,429.65 145.27,430.21 145.38,430.80 145.49,431.41 145.59,432.04 145.70,432.71 145.81,433.41 145.92,434.14 146.02,434.91 146.13,435.71 146.24,436.57 146.35,437.47 146.46,438.43 146.56,439.45 146.67,440.54 146.78,441.71 146.89,442.97 146.99,444.34 147.10,445.84 147.21,447.49 147.32,449.32 147.42,451.39 147.53,453.75 147.64,456.50 147.75,459.80 147.85,461.93 148.18,461.93 148.50,461.93 148.72,460.44 148.82,456.99 148.93,454.12 149.04,451.66 149.15,449.52 149.25,447.63 149.36,445.92 149.47,444.37 149.58,442.95 149.68,441.65 149.79,440.44 149.90,439.31 150.01,438.25 150.12,437.26 150.22,436.32 150.33,435.43 150.44,434.59 150.55,433.80 150.65,433.04 150.76,432.31 150.87,431.61 150.98,430.95 151.08,430.31 151.19,429.70 151.30,429.11 151.41,428.54 151.51,427.99 151.62,427.47 151.73,426.95 151.84,426.46 151.95,425.98 152.05,425.52 152.16,425.08 152.27,424.64 152.38,424.22 152.48,423.81 152.59,423.42 152.70,423.03 152.81,422.66 152.91,422.29 153.02,421.94 153.13,421.59 153.24,421.26 153.34,420.93 153.45,420.61 153.56,420.30 153.67,420.00 153.78,419.71 153.88,419.42 153.99,419.14 154.10,418.87 154.21,418.60 154.31,418.34 154.42,418.09 154.53,417.84 154.64,417.60 154.74,417.37 154.85,417.14 154.96,416.91 155.07,416.69 155.17,416.48 155.28,416.27 155.39,416.07 155.50,415.87 155.61,415.68 155.71,415.49 155.82,415.30 155.93,415.12 156.04,414.95 156.14,414.78 156.25,414.61 156.36,414.45 156.47,414.29 156.57,414.13 156.68,413.98 156.79,413.83 156.90,413.69 157.11,413.42 157.33,413.16 157.54,412.91 157.76,412.68 157.97,412.46 158.19,412.25 158.40,412.06 158.62,411.88 158.83,411.71 159.05,411.56 159.27,411.41 159.48,411.28 159.70,411.16 159.91,411.05 160.13,410.96 160.34,410.87 160.56,410.80 160.77,410.73 160.99,410.68 161.20,410.64 161.53,410.60 161.85,410.59 162.17,410.60 162.49,410.63 162.71,410.67 162.93,410.72 163.14,410.78 163.36,410.85 163.57,410.93 163.79,411.03 164.00,411.14 164.22,411.26 164.43,411.39 164.65,411.54 164.86,411.69 165.08,411.86 165.29,412.05 165.51,412.25 165.72,412.46 165.94,412.69 166.15,412.93 166.37,413.19 166.59,413.47 166.69,413.61 166.80,413.76 166.91,413.91 167.02,414.07 167.12,414.23 167.23,414.39 167.34,414.56 167.45,414.74 167.55,414.92 167.66,415.10 167.77,415.29 167.88,415.49 167.99,415.69 168.09,415.90 168.20,416.11 168.31,416.33 168.42,416.55 168.52,416.78 168.63,417.02 168.74,417.27 168.85,417.52 168.95,417.77 169.06,418.04 169.17,418.31 169.28,418.59 169.38,418.88 169.49,419.17 169.60,419.48 169.71,419.79 169.82,420.12 169.92,420.45 170.03,420.79 170.14,421.15 170.25,421.51 170.35,421.89 170.46,422.27 170.57,422.67 170.68,423.09 170.78,423.52 170.89,423.96 171.00,424.42 171.11,424.89 171.21,425.38 171.32,425.89 171.43,426.42 171.54,426.98 171.65,427.55 171.75,428.15 171.86,428.77 171.97,429.42 172.08,430.10 172.18,430.82 172.29,431.57 172.40,432.36 172.51,433.19 172.61,434.07 172.72,435.00 172.83,436.00 172.94,437.06 173.04,438.19 173.15,439.41 173.26,440.74 173.37,442.18 173.48,443.76 173.58,445.52 173.69,447.48 173.80,449.71 173.91,452.29 174.01,455.34 174.12,459.08 174.23,463.91 174.34,470.46 174.66,470.46 174.87,463.83 174.98,458.97 175.09,455.20 175.20,452.12 175.31,449.51 175.41,447.26 175.52,445.27 175.63,443.49 175.74,441.88 175.84,440.41 175.95,439.06 176.06,437.81 176.17,436.64 176.27,435.56 176.38,434.54 176.49,433.57 176.60,432.67 176.70,431.81 176.81,430.99 176.92,430.21 177.03,429.47 177.14,428.76 177.24,428.08 177.35,427.43 177.46,426.80 177.57,426.20 177.67,425.62 177.78,425.07 177.89,424.53 178.00,424.01 178.10,423.51 178.21,423.02 178.32,422.55 178.43,422.10 178.53,421.65 178.64,421.23 178.75,420.81 178.86,420.41 178.97,420.01 179.07,419.63 179.18,419.26 179.29,418.90 179.40,418.55 179.50,418.21 179.61,417.88 179.72,417.55 179.83,417.24 179.93,416.93 180.04,416.63 180.15,416.34 180.26,416.05 180.36,415.78 180.47,415.50 180.58,415.24 180.69,414.98 180.80,414.73 180.90,414.48 181.01,414.24 181.12,414.01 181.23,413.78 181.33,413.56 181.44,413.34 181.55,413.12 181.66,412.92 181.76,412.71 181.87,412.52 181.98,412.32 182.09,412.13 182.19,411.95 182.30,411.77 182.41,411.59 182.52,411.42 182.63,411.25 182.73,411.09 182.84,410.93 182.95,410.78 183.06,410.63 183.16,410.48 183.27,410.34 183.49,410.06 183.70,409.80 183.92,409.55 184.13,409.32 184.35,409.10 184.56,408.89 184.78,408.70 184.99,408.52 185.21,408.35 185.42,408.19 185.64,408.04 185.85,407.91 186.07,407.79 186.29,407.68 186.50,407.58 186.72,407.49 186.93,407.42 187.15,407.35 187.36,407.30 187.58,407.25 187.90,407.21 188.22,407.19 188.55,407.20 188.87,407.23 189.08,407.27 189.30,407.31 189.52,407.37 189.73,407.44 189.95,407.52 190.16,407.62 190.38,407.72 190.59,407.84 190.81,407.97 191.02,408.11 191.24,408.27 191.45,408.44 191.67,408.62 191.88,408.82 192.10,409.03 192.31,409.26 192.53,409.50 192.74,409.75 192.96,410.03 193.07,410.17 193.18,410.32 193.28,410.47 193.39,410.63 193.50,410.79 193.61,410.95 193.71,411.12 193.82,411.30 193.93,411.48 194.04,411.66 194.14,411.86 194.25,412.05 194.36,412.25 194.47,412.46 194.57,412.67 194.68,412.89 194.79,413.12 194.90,413.35 195.01,413.59 195.11,413.83 195.22,414.08 195.33,414.34 195.44,414.61 195.54,414.88 195.65,415.16 195.76,415.45 195.87,415.75 195.97,416.06 196.08,416.37 196.19,416.70 196.30,417.03 196.40,417.38 196.51,417.74 196.62,418.11 196.73,418.49 196.84,418.88 196.94,419.28 197.05,419.70 197.16,420.14 197.27,420.58 197.37,421.05 197.48,421.53 197.59,422.03 197.70,422.55 197.80,423.09 197.91,423.65 198.02,424.23 198.13,424.84 198.23,425.48 198.34,426.15 198.45,426.84 198.56,427.58 198.67,428.35 198.77,429.16 198.88,430.01 198.99,430.92 199.10,431.89 199.20,432.92 199.31,434.02 199.42,435.20 199.53,436.48 199.63,437.87 199.74,439.39 199.85,441.06 199.96,442.93 200.06,443.50 200.39,443.50 200.71,443.50 201.03,443.50 201.36,443.50 201.68,443.50 201.79,442.25 201.89,440.38 202.00,438.70 202.11,437.18 202.22,435.78 202.33,434.49 202.43,433.29 202.54,432.17 202.65,431.12 202.76,430.13 202.86,429.20 202.97,428.32 203.08,427.48 203.19,426.68 203.29,425.92 203.40,425.20 203.51,424.50 203.62,423.84 203.72,423.20 203.83,422.58 203.94,421.99 204.05,421.42 204.16,420.87 204.26,420.34 204.37,419.83 204.48,419.33 204.59,418.85 204.69,418.39 204.80,417.94 204.91,417.50 205.02,417.08 205.12,416.66 205.23,416.26 205.34,415.88 205.45,415.50 205.55,415.13 205.66,414.77 205.77,414.42 205.88,414.08 205.99,413.75 206.09,413.43 206.20,413.11 206.31,412.81 206.42,412.51 206.52,412.22 206.63,411.93 206.74,411.65 206.85,411.38 206.95,411.12 207.06,410.86 207.17,410.61 207.28,410.36 207.38,410.12 207.49,409.89 207.60,409.66 207.71,409.43 207.82,409.21 207.92,409.00 208.03,408.79 208.14,408.59 208.25,408.39 208.35,408.19 208.46,408.00 208.57,407.82 208.68,407.63 208.78,407.46 208.89,407.29 209.00,407.12 209.11,406.95 209.22,406.79 209.32,406.63 209.43,406.48 209.54,406.33 209.65,406.19 209.86,405.91 210.08,405.64 210.29,405.39 210.51,405.15 210.72,404.93 210.94,404.72 211.15,404.52 211.37,404.33 211.58,404.16 211.80,404.00 212.01,403.85 212.23,403.71 212.44,403.58 212.66,403.47 212.88,403.36 213.09,403.27 213.31,403.19 213.52,403.12 213.74,403.06 213.95,403.01 214.17,402.97 214.49,402.94 214.81,402.93 215.14,402.94 215.46,402.98 215.67,403.03 215.89,403.08 216.10,403.14 216.32,403.22 216.54,403.31 216.75,403.41 216.97,403.52 217.18,403.64 217.40,403.78 217.61,403.93 217.83,404.10 218.04,404.27 218.26,404.47 218.47,404.67 218.69,404.89 218.90,405.13 219.12,405.38 219.33,405.65 219.55,405.94 219.66,406.09 219.76,406.24 219.87,406.40 219.98,406.56 220.09,406.73 220.20,406.90 220.30,407.08 220.41,407.27 220.52,407.46 220.63,407.65 220.73,407.85 220.84,408.05 220.95,408.27 221.06,408.48 221.16,408.71 221.27,408.94 221.38,409.17 221.49,409.42 221.59,409.67 221.70,409.93 221.81,410.19 221.92,410.47 222.03,410.75 222.13,411.04 222.24,411.33 222.35,411.64 222.46,411.96 222.56,412.29 222.67,412.62 222.78,412.97 222.89,413.33 222.99,413.70 223.10,414.08 223.21,414.47 223.32,414.88 223.42,415.30 223.53,415.74 223.64,416.19 223.75,416.66 223.86,417.15 223.96,417.66 224.07,418.18 224.18,418.73 224.29,419.30 224.39,419.89 224.50,420.51 224.61,421.16 224.72,421.84 224.82,422.55 224.93,423.30 225.04,424.09 225.15,424.92 225.25,425.81 225.36,426.74 225.47,427.74 225.58,428.80 225.69,429.95 225.79,431.18 225.90,432.52 226.01,433.97 226.12,435.58 226.22,437.36 226.33,439.36 226.44,441.65 226.55,444.30 226.65,447.46 226.76,451.37 226.87,456.49 226.98,461.93 227.30,461.93 227.41,460.44 227.52,454.10 227.62,449.50 227.73,445.88 227.84,442.90 227.95,440.36 228.05,438.16 228.16,436.20 228.27,434.45 228.38,432.86 228.48,431.41 228.59,430.07 228.70,428.83 228.81,427.67 228.91,426.59 229.02,425.57 229.13,424.61 229.24,423.70 229.35,422.84 229.45,422.02 229.56,421.24 229.67,420.50 229.78,419.79 229.88,419.10 229.99,418.45 230.10,417.82 230.21,417.21 230.31,416.63 230.42,416.06 230.53,415.52 230.64,414.99 230.75,414.48 230.85,413.99 230.96,413.51 231.07,413.05 231.18,412.60 231.28,412.17 231.39,411.74 231.50,411.33 231.61,410.93 231.71,410.54 231.82,410.17 231.93,409.80 232.04,409.44 232.14,409.09 232.25,408.75 232.36,408.41 232.47,408.09 232.58,407.77 232.68,407.47 232.79,407.16 232.90,406.87 233.01,406.58 233.11,406.30 233.22,406.03 233.33,405.76 233.44,405.50 233.54,405.24 233.65,405.00 233.76,404.75 233.87,404.51 233.97,404.28 234.08,404.05 234.19,403.83 234.30,403.61 234.41,403.40 234.51,403.19 234.62,402.99 234.73,402.79 234.84,402.59 234.94,402.41 235.05,402.22 235.16,402.04 235.27,401.86 235.37,401.69 235.48,401.52 235.59,401.35 235.70,401.19 235.80,401.03 235.91,400.88 236.02,400.73 236.13,400.58 236.24,400.44 236.45,400.17 236.67,399.91 236.88,399.66 237.10,399.42 237.31,399.20 237.53,398.99 237.74,398.79 237.96,398.61 238.17,398.44 238.39,398.27 238.60,398.12 238.82,397.99 239.03,397.86 239.25,397.74 239.46,397.64 239.68,397.54 239.90,397.46 240.11,397.39 240.33,397.33 240.54,397.28 240.76,397.24 241.08,397.20 241.40,397.19 241.73,397.20 242.05,397.24 242.26,397.28 242.48,397.33 242.69,397.39 242.91,397.47 243.12,397.56 243.34,397.65 243.56,397.77 243.77,397.89 243.99,398.03 244.20,398.18 244.42,398.34 244.63,398.52 244.85,398.71 245.06,398.92 245.28,399.15 245.49,399.39 245.71,399.64 245.92,399.91 246.03,400.06 246.14,400.20 246.25,400.36 246.35,400.51 246.46,400.68 246.57,400.84 246.68,401.02 246.78,401.19 246.89,401.38 247.00,401.56 247.11,401.76 247.22,401.96 247.32,402.16 247.43,402.37 247.54,402.59 247.65,402.82 247.75,403.05 247.86,403.29 247.97,403.53 248.08,403.78 248.18,404.04 248.29,404.31 248.40,404.59 248.51,404.87 248.61,405.17 248.72,405.47 248.83,405.78 248.94,406.11 249.05,406.44 249.15,406.78 249.26,407.14 249.37,407.50 249.48,407.88 249.58,408.28 249.69,408.68 249.80,409.10 249.91,409.54 250.01,409.99 250.12,410.46 250.23,410.95 250.34,411.46 250.44,411.98 250.55,412.53 250.66,413.11 250.77,413.71 250.88,414.33 250.98,414.99 251.09,415.68 251.20,416.40 251.31,417.16 251.41,417.97 251.52,418.82 251.63,419.72 251.74,420.68 251.84,421.71 251.95,422.81 252.06,423.99 252.17,425.27 252.27,426.67 252.38,428.20 252.49,429.90 252.60,431.79 252.71,433.94 252.81,436.42 252.92,439.35 253.03,442.91 253.35,442.92 253.67,442.92 254.00,440.35 254.11,437.13 254.21,434.42 254.32,432.08 254.43,430.02 254.54,428.18 254.64,426.52 254.75,425.00 254.86,423.61 254.97,422.32 255.07,421.12 255.18,419.99 255.29,418.94 255.40,417.94 255.50,417.00 255.61,416.11 255.72,415.27 255.83,414.46 255.94,413.69 256.04,412.95 256.15,412.24 256.26,411.56 256.37,410.91 256.47,410.28 256.58,409.68 256.69,409.09 256.80,408.53 256.90,407.98 257.01,407.45 257.12,406.94 257.23,406.45 257.33,405.96 257.44,405.50 257.55,405.04 257.66,404.60 257.77,404.17 257.87,403.76 257.98,403.35 258.09,402.95 258.20,402.57 258.30,402.19 258.41,401.82 258.52,401.47 258.63,401.12 258.73,400.78 258.84,400.44 258.95,400.12 259.06,399.80 259.16,399.49 259.27,399.18 259.38,398.89 259.49,398.60 259.60,398.31 259.70,398.03 259.81,397.76 259.92,397.50 260.03,397.24 260.13,396.98 260.24,396.73 260.35,396.49 260.46,396.25 260.56,396.01 260.67,395.78 260.78,395.56 260.89,395.34 260.99,395.13 261.10,394.91 261.21,394.71 261.32,394.51 261.43,394.31 261.53,394.11 261.64,393.92 261.75,393.74 261.86,393.56 261.96,393.38 262.07,393.20 262.18,393.03 262.29,392.87 262.39,392.70 262.50,392.54 262.61,392.39 262.72,392.23 262.82,392.08 262.93,391.94 263.04,391.79 263.26,391.52 263.47,391.25 263.69,391.00 263.90,390.77 264.12,390.54 264.33,390.32 264.55,390.12 264.76,389.93 264.98,389.75 265.19,389.58 265.41,389.42 265.62,389.27 265.84,389.13 266.05,389.01 266.27,388.89 266.48,388.79 266.70,388.69 266.92,388.61 267.13,388.54 267.35,388.48 267.56,388.42 267.78,388.38 268.10,388.34 268.42,388.33 268.75,388.34 269.07,388.37 269.28,388.41 269.50,388.46 269.71,388.52 269.93,388.59 270.14,388.68 270.36,388.78 270.58,388.89 270.79,389.01 271.01,389.15 271.22,389.30 271.44,389.47 271.65,389.65 271.87,389.85 272.08,390.07 272.30,390.30 272.51,390.55 272.73,390.82 272.94,391.10 273.05,391.25 273.16,391.41 273.27,391.57 273.37,391.74 273.48,391.91 273.59,392.09 273.70,392.27 273.80,392.46 273.91,392.66 274.02,392.86 274.13,393.07 274.24,393.29 274.34,393.51 274.45,393.74 274.56,393.98 274.67,394.23 274.77,394.49 274.88,394.75 274.99,395.02 275.10,395.30 275.20,395.60 275.31,395.90 275.42,396.21 275.53,396.53 275.64,396.87 275.74,397.21 275.85,397.57 275.96,397.95 276.07,398.33 276.17,398.73 276.28,399.15 276.39,399.59 276.50,400.04 276.60,400.51 276.71,401.00 276.82,401.51 276.93,402.04 277.03,402.60 277.14,403.19 277.25,403.80 277.36,404.45 277.47,405.13 277.57,405.84 277.68,406.60 277.79,407.40 277.90,408.25 278.00,409.15 278.11,410.12 278.22,411.16 278.33,412.28 278.43,413.48 278.54,414.80 278.65,416.24 278.76,417.84 278.86,419.62 278.97,421.63 279.08,423.93 279.19,425.46 279.51,425.46 279.83,425.46 280.16,425.46 280.48,423.55 280.59,421.04 280.69,418.84 280.80,416.88 280.91,415.11 281.02,413.51 281.13,412.03 281.23,410.66 281.34,409.39 281.45,408.20 281.56,407.08 281.66,406.02 281.77,405.02 281.88,404.07 281.99,403.17 282.09,402.31 282.20,401.48 282.31,400.69 282.42,399.93 282.52,399.20 282.63,398.50 282.74,397.82 282.85,397.16 282.96,396.53 283.06,395.92 283.17,395.32 283.28,394.74 283.39,394.18 283.49,393.64 283.60,393.11 283.71,392.59 283.82,392.09 283.92,391.60 284.03,391.12 284.14,390.65 284.25,390.19 284.35,389.75 284.46,389.31 284.57,388.89 284.68,388.47 284.79,388.06 284.89,387.66 285.00,387.27 285.11,386.88 285.22,386.51 285.32,386.14 285.43,385.78 285.54,385.42 285.65,385.07 285.75,384.73 285.86,384.39 285.97,384.06 286.08,383.73 286.18,383.41 286.29,383.10 286.40,382.79 286.51,382.48 286.62,382.19 286.72,381.89 286.83,381.60 286.94,381.31 287.05,381.03 287.15,380.76 287.26,380.48 287.37,380.21 287.48,379.95 287.58,379.69 287.69,379.43 287.80,379.18 287.91,378.93 288.01,378.68 288.12,378.44 288.23,378.20 288.34,377.96 288.45,377.73 288.55,377.50 288.66,377.27 288.77,377.04 288.88,376.82 288.98,376.61 289.09,376.39 289.20,376.18 289.31,375.97 289.41,375.76 289.52,375.56 289.63,375.35 289.74,375.15 289.84,374.96 289.95,374.76 290.06,374.57 290.17,374.38 290.28,374.19 290.38,374.01 290.49,373.83 290.60,373.65 290.71,373.47 290.81,373.29 290.92,373.12 291.03,372.95 291.14,372.78 291.24,372.61 291.35,372.44 291.46,372.28 291.57,372.12 291.67,371.96 291.78,371.80 291.89,371.64 292.00,371.49 292.11,371.34 292.21,371.19 292.32,371.04 292.43,370.89 292.54,370.75 292.64,370.60 292.86,370.32 293.07,370.05 293.29,369.78 293.50,369.51 293.72,369.26 293.94,369.01 294.15,368.76 294.37,368.53 294.58,368.29 294.80,368.07 295.01,367.85 295.23,367.63 295.44,367.42 295.66,367.22 295.87,367.02 296.09,366.82 296.30,366.64 296.52,366.45 296.73,366.27 296.95,366.10 297.17,365.93 297.38,365.76 297.60,365.60 297.81,365.45 298.03,365.30 298.24,365.15 298.46,365.01 298.67,364.87 298.89,364.74 299.10,364.61 299.32,364.48 299.53,364.36 299.75,364.25 299.96,364.14 300.18,364.03 300.39,363.92 300.61,363.82 300.83,363.73 301.04,363.64 301.26,363.55 301.47,363.47 301.69,363.39 301.90,363.31 302.12,363.24 302.33,363.17 302.55,363.11 302.76,363.05 302.98,362.99 303.19,362.94 303.41,362.89 303.62,362.85 303.84,362.81 304.05,362.77 304.38,362.72 304.70,362.68 305.02,362.65 305.35,362.62 305.67,362.61 305.99,362.60 306.32,362.60 306.64,362.61 306.96,362.63 307.28,362.66 307.61,362.69 307.93,362.73 308.25,362.79 308.47,362.83 308.68,362.87 308.90,362.91 309.11,362.97 309.33,363.02 309.54,363.08 309.76,363.14 309.98,363.21 310.19,363.28 310.41,363.35 310.62,363.43 310.84,363.51 311.05,363.59 311.27,363.68 311.48,363.78 311.70,363.87 311.91,363.98 312.13,364.08 312.34,364.19 312.56,364.31 312.77,364.42 312.99,364.55 313.20,364.67 313.42,364.80 313.64,364.94 313.85,365.08 314.07,365.22 314.28,365.37 314.50,365.52 314.71,365.68 314.93,365.84 315.14,366.01 315.36,366.18 315.57,366.36 315.79,366.54 316.00,366.73 316.22,366.92 316.43,367.12 316.65,367.32 316.87,367.53 317.08,367.74 317.30,367.96 317.51,368.18 317.73,368.41 317.94,368.65 318.16,368.89 318.37,369.13 318.59,369.39 318.80,369.64 319.02,369.91 319.23,370.18 319.45,370.46 319.66,370.75 319.77,370.89 319.88,371.04 319.99,371.19 320.09,371.34 320.20,371.49 320.31,371.64 320.42,371.80 320.53,371.96 320.63,372.12 320.74,372.28 320.85,372.44 320.96,372.61 321.06,372.78 321.17,372.95 321.28,373.12 321.39,373.29 321.49,373.47 321.60,373.65 321.71,373.83 321.82,374.01 321.92,374.19 322.03,374.38 322.14,374.57 322.25,374.76 322.36,374.96 322.46,375.15 322.57,375.35 322.68,375.56 322.79,375.76 322.89,375.97 323.00,376.18 323.11,376.39 323.22,376.61 323.32,376.82 323.43,377.04 323.54,377.27 323.65,377.50 323.75,377.73 323.86,377.96 323.97,378.20 324.08,378.44 324.19,378.68 324.29,378.93 324.40,379.18 324.51,379.43 324.62,379.69 324.72,379.95 324.83,380.21 324.94,380.48 325.05,380.76 325.15,381.03 325.26,381.31 325.37,381.60 325.48,381.89 325.58,382.19 325.69,382.48 325.80,382.79 325.91,383.10 326.02,383.41 326.12,383.73 326.23,384.06 326.34,384.39 326.45,384.73 326.55,385.07 326.66,385.42 326.77,385.78 326.88,386.14 326.98,386.51 327.09,386.88 327.20,387.27 327.31,387.66 327.41,388.06 327.52,388.47 327.63,388.89 327.74,389.31 327.85,389.75 327.95,390.19 328.06,390.65 328.17,391.12 328.28,391.60 328.38,392.09 328.49,392.59 328.60,393.11 328.71,393.64 328.81,394.18 328.92,394.74 329.03,395.32 329.14,395.92 329.24,396.53 329.35,397.16 329.46,397.82 329.57,398.50 329.68,399.20 329.78,399.93 329.89,400.69 330.00,401.48 330.11,402.31 330.21,403.17 330.32,404.07 330.43,405.02 330.54,406.02 330.64,407.08 330.75,408.20 330.86,409.39 330.97,410.66 331.07,412.03 331.18,413.51 331.29,415.11 331.40,416.88 331.51,418.84 331.61,421.04 331.72,423.55 331.83,425.46 332.15,425.46 332.47,425.46 332.80,425.46 333.12,423.93 333.23,421.63 333.34,419.62 333.44,417.84 333.55,416.24 333.66,414.80 333.77,413.48 333.87,412.28 333.98,411.16 334.09,410.12 334.20,409.15 334.30,408.25 334.41,407.40 334.52,406.60 334.63,405.84 334.73,405.13 334.84,404.45 334.95,403.80 335.06,403.19 335.17,402.60 335.27,402.04 335.38,401.51 335.49,401.00 335.60,400.51 335.70,400.04 335.81,399.59 335.92,399.15 336.03,398.73 336.13,398.33 336.24,397.95 336.35,397.57 336.46,397.21 336.56,396.87 336.67,396.53 336.78,396.21 336.89,395.90 337.00,395.60 337.10,395.30 337.21,395.02 337.32,394.75 337.43,394.49 337.53,394.23 337.64,393.98 337.75,393.74 337.86,393.51 337.96,393.29 338.07,393.07 338.18,392.86 338.29,392.66 338.39,392.46 338.50,392.27 338.61,392.09 338.72,391.91 338.83,391.74 338.93,391.57 339.04,391.41 339.15,391.25 339.26,391.10 339.36,390.96 339.58,390.68 339.79,390.42 340.01,390.18 340.23,389.96 340.44,389.75 340.66,389.56 340.87,389.39 341.09,389.23 341.30,389.08 341.52,388.95 341.73,388.83 341.95,388.73 342.16,388.63 342.38,388.55 342.59,388.49 342.81,388.43 343.02,388.39 343.35,388.35 343.67,388.33 343.99,388.34 344.32,388.37 344.53,388.40 344.75,388.45 344.96,388.51 345.18,388.57 345.39,388.65 345.61,388.74 345.82,388.84 346.04,388.95 346.25,389.07 346.47,389.20 346.68,389.34 346.90,389.50 347.11,389.66 347.33,389.84 347.55,390.02 347.76,390.22 347.98,390.43 348.19,390.65 348.41,390.88 348.62,391.13 348.84,391.38 349.05,391.65 349.27,391.94 349.38,392.08 349.48,392.23 349.59,392.39 349.70,392.54 349.81,392.70 349.91,392.87 350.02,393.03 350.13,393.20 350.24,393.38 350.34,393.56 350.45,393.74 350.56,393.92 350.67,394.11 350.77,394.31 350.88,394.51 350.99,394.71 351.10,394.91 351.21,395.13 351.31,395.34 351.42,395.56 351.53,395.78 351.64,396.01 351.74,396.25 351.85,396.49 351.96,396.73 352.07,396.98 352.17,397.24 352.28,397.50 352.39,397.76 352.50,398.03 352.60,398.31 352.71,398.60 352.82,398.89 352.93,399.18 353.04,399.49 353.14,399.80 353.25,400.12 353.36,400.44 353.47,400.78 353.57,401.12 353.68,401.47 353.79,401.82 353.90,402.19 354.00,402.57 354.11,402.95 354.22,403.35 354.33,403.76 354.43,404.17 354.54,404.60 354.65,405.04 354.76,405.50 354.87,405.96 354.97,406.45 355.08,406.94 355.19,407.45 355.30,407.98 355.40,408.53 355.51,409.09 355.62,409.68 355.73,410.28 355.83,410.91 355.94,411.56 356.05,412.24 356.16,412.95 356.26,413.69 356.37,414.46 356.48,415.27 356.59,416.11 356.70,417.00 356.80,417.94 356.91,418.94 357.02,419.99 357.13,421.12 357.23,422.32 357.34,423.61 357.45,425.00 357.56,426.52 357.66,428.18 357.77,430.02 357.88,432.08 357.99,434.42 358.09,437.13 358.20,440.35 358.31,442.92 358.63,442.92 358.96,442.92 359.28,439.35 359.39,436.42 359.49,433.94 359.60,431.79 359.71,429.90 359.82,428.20 359.93,426.67 360.03,425.27 360.14,423.99 360.25,422.81 360.36,421.71 360.46,420.68 360.57,419.72 360.68,418.82 360.79,417.97 360.89,417.16 361.00,416.40 361.11,415.68 361.22,414.99 361.32,414.33 361.43,413.71 361.54,413.11 361.65,412.53 361.76,411.98 361.86,411.46 361.97,410.95 362.08,410.46 362.19,409.99 362.29,409.54 362.40,409.10 362.51,408.68 362.62,408.28 362.72,407.88 362.83,407.50 362.94,407.14 363.05,406.78 363.15,406.44 363.26,406.11 363.37,405.78 363.48,405.47 363.59,405.17 363.69,404.87 363.80,404.59 363.91,404.31 364.02,404.04 364.12,403.78 364.23,403.53 364.34,403.29 364.45,403.05 364.55,402.82 364.66,402.59 364.77,402.37 364.88,402.16 364.98,401.96 365.09,401.76 365.20,401.56 365.31,401.38 365.42,401.19 365.52,401.02 365.63,400.84 365.74,400.68 365.85,400.51 365.95,400.36 366.06,400.20 366.17,400.06 366.28,399.91 366.49,399.64 366.71,399.39 366.92,399.15 367.14,398.92 367.35,398.71 367.57,398.52 367.78,398.34 368.00,398.18 368.21,398.03 368.43,397.89 368.64,397.77 368.86,397.65 369.08,397.56 369.29,397.47 369.51,397.39 369.72,397.33 369.94,397.28 370.15,397.24 370.47,397.20 370.80,397.19 371.12,397.20 371.44,397.24 371.66,397.28 371.87,397.33 372.09,397.39 372.30,397.46 372.52,397.54 372.74,397.64 372.95,397.74 373.17,397.86 373.38,397.99 373.60,398.12 373.81,398.27 374.03,398.44 374.24,398.61 374.46,398.79 374.67,398.99 374.89,399.20 375.10,399.42 375.32,399.66 375.53,399.91 375.75,400.17 375.96,400.44 376.07,400.58 376.18,400.73 376.29,400.88 376.40,401.03 376.50,401.19 376.61,401.35 376.72,401.52 376.83,401.69 376.93,401.86 377.04,402.04 377.15,402.22 377.26,402.41 377.36,402.59 377.47,402.79 377.58,402.99 377.69,403.19 377.79,403.40 377.90,403.61 378.01,403.83 378.12,404.05 378.23,404.28 378.33,404.51 378.44,404.75 378.55,405.00 378.66,405.24 378.76,405.50 378.87,405.76 378.98,406.03 379.09,406.30 379.19,406.58 379.30,406.87 379.41,407.16 379.52,407.47 379.62,407.77 379.73,408.09 379.84,408.41 379.95,408.75 380.06,409.09 380.16,409.44 380.27,409.80 380.38,410.17 380.49,410.54 380.59,410.93 380.70,411.33 380.81,411.74 380.92,412.17 381.02,412.60 381.13,413.05 381.24,413.51 381.35,413.99 381.45,414.48 381.56,414.99 381.67,415.52 381.78,416.06 381.89,416.63 381.99,417.21 382.10,417.82 382.21,418.45 382.32,419.10 382.42,419.79 382.53,420.50 382.64,421.24 382.75,422.02 382.85,422.84 382.96,423.70 383.07,424.61 383.18,425.57 383.29,426.59 383.39,427.67 383.50,428.83 383.61,430.07 383.72,431.41 383.82,432.86 383.93,434.45 384.04,436.20 384.15,438.16 384.25,440.36 384.36,442.90 384.47,445.88 384.58,449.50 384.68,454.10 384.79,460.44 384.90,461.93 385.22,461.93 385.33,456.49 385.44,451.37 385.55,447.46 385.65,444.30 385.76,441.65 385.87,439.36 385.98,437.36 386.08,435.58 386.19,433.97 386.30,432.52 386.41,431.18 386.51,429.95 386.62,428.80 386.73,427.74 386.84,426.74 386.95,425.81 387.05,424.92 387.16,424.09 387.27,423.30 387.38,422.55 387.48,421.84 387.59,421.16 387.70,420.51 387.81,419.89 387.91,419.30 388.02,418.73 388.13,418.18 388.24,417.66 388.34,417.15 388.45,416.66 388.56,416.19 388.67,415.74 388.78,415.30 388.88,414.88 388.99,414.47 389.10,414.08 389.21,413.70 389.31,413.33 389.42,412.97 389.53,412.62 389.64,412.29 389.74,411.96 389.85,411.64 389.96,411.33 390.07,411.04 390.17,410.75 390.28,410.47 390.39,410.19 390.50,409.93 390.61,409.67 390.71,409.42 390.82,409.17 390.93,408.94 391.04,408.71 391.14,408.48 391.25,408.27 391.36,408.05 391.47,407.85 391.57,407.65 391.68,407.46 391.79,407.27 391.90,407.08 392.00,406.90 392.11,406.73 392.22,406.56 392.33,406.40 392.44,406.24 392.54,406.09 392.65,405.94 392.76,405.79 392.97,405.51 393.19,405.25 393.40,405.01 393.62,404.78 393.83,404.57 394.05,404.37 394.27,404.18 394.48,404.01 394.70,403.85 394.91,403.71 395.13,403.58 395.34,403.46 395.56,403.35 395.77,403.26 395.99,403.18 396.20,403.11 396.42,403.05 396.63,403.00 396.85,402.97 397.17,402.94 397.49,402.93 397.82,402.95 398.14,402.99 398.36,403.03 398.57,403.09 398.79,403.15 399.00,403.23 399.22,403.32 399.43,403.41 399.65,403.52 399.86,403.64 400.08,403.78 400.29,403.92 400.51,404.08 400.72,404.25 400.94,404.43 401.15,404.62 401.37,404.82 401.59,405.04 401.80,405.27 402.02,405.52 402.23,405.77 402.45,406.05 402.66,406.33 402.77,406.48 402.88,406.63 402.98,406.79 403.09,406.95 403.20,407.12 403.31,407.29 403.42,407.46 403.52,407.63 403.63,407.82 403.74,408.00 403.85,408.19 403.95,408.39 404.06,408.59 404.17,408.79 404.28,409.00 404.38,409.21 404.49,409.43 404.60,409.66 404.71,409.89 404.82,410.12 404.92,410.36 405.03,410.61 405.14,410.86 405.25,411.12 405.35,411.38 405.46,411.65 405.57,411.93 405.68,412.22 405.78,412.51 405.89,412.81 406.00,413.11 406.11,413.43 406.21,413.75 406.32,414.08 406.43,414.42 406.54,414.77 406.65,415.13 406.75,415.50 406.86,415.88 406.97,416.26 407.08,416.66 407.18,417.08 407.29,417.50 407.40,417.94 407.51,418.39 407.61,418.85 407.72,419.33 407.83,419.83 407.94,420.34 408.04,420.87 408.15,421.42 408.26,421.99 408.37,422.58 408.48,423.20 408.58,423.84 408.69,424.50 408.80,425.20 408.91,425.92 409.01,426.68 409.12,427.48 409.23,428.32 409.34,429.20 409.44,430.13 409.55,431.12 409.66,432.17 409.77,433.29 409.87,434.49 409.98,435.78 410.09,437.18 410.20,438.70 410.31,440.38 410.41,442.25 410.52,443.50 410.84,443.50 411.17,443.50 411.49,443.50 411.81,443.50 412.14,443.50 412.24,442.93 412.35,441.06 412.46,439.39 412.57,437.87 412.67,436.48 412.78,435.20 412.89,434.02 413.00,432.92 413.10,431.89 413.21,430.92 413.32,430.01 413.43,429.16 413.53,428.35 413.64,427.58 413.75,426.84 413.86,426.15 413.97,425.48 414.07,424.84 414.18,424.23 414.29,423.65 414.40,423.09 414.50,422.55 414.61,422.03 414.72,421.53 414.83,421.05 414.93,420.58 415.04,420.14 415.15,419.70 415.26,419.28 415.36,418.88 415.47,418.49 415.58,418.11 415.69,417.74 415.80,417.38 415.90,417.03 416.01,416.70 416.12,416.37 416.23,416.06 416.33,415.75 416.44,415.45 416.55,415.16 416.66,414.88 416.76,414.61 416.87,414.34 416.98,414.08 417.09,413.83 417.19,413.59 417.30,413.35 417.41,413.12 417.52,412.89 417.63,412.67 417.73,412.46 417.84,412.25 417.95,412.05 418.06,411.86 418.16,411.66 418.27,411.48 418.38,411.30 418.49,411.12 418.59,410.95 418.70,410.79 418.81,410.63 418.92,410.47 419.02,410.32 419.13,410.17 419.24,410.03 419.46,409.75 419.67,409.50 419.89,409.26 420.10,409.03 420.32,408.82 420.53,408.62 420.75,408.44 420.96,408.27 421.18,408.11 421.39,407.97 421.61,407.84 421.82,407.72 422.04,407.62 422.25,407.52 422.47,407.44 422.68,407.37 422.90,407.31 423.12,407.27 423.33,407.23 423.65,407.20 423.98,407.19 424.30,407.21 424.62,407.25 424.84,407.30 425.05,407.35 425.27,407.42 425.48,407.49 425.70,407.58 425.91,407.68 426.13,407.79 426.35,407.91 426.56,408.04 426.78,408.19 426.99,408.35 427.21,408.52 427.42,408.70 427.64,408.89 427.85,409.10 428.07,409.32 428.28,409.55 428.50,409.80 428.71,410.06 428.93,410.34 429.04,410.48 429.14,410.63 429.25,410.78 429.36,410.93 429.47,411.09 429.57,411.25 429.68,411.42 429.79,411.59 429.90,411.77 430.01,411.95 430.11,412.13 430.22,412.32 430.33,412.52 430.44,412.71 430.54,412.92 430.65,413.12 430.76,413.34 430.87,413.56 430.97,413.78 431.08,414.01 431.19,414.24 431.30,414.48 431.40,414.73 431.51,414.98 431.62,415.24 431.73,415.50 431.84,415.78 431.94,416.05 432.05,416.34 432.16,416.63 432.27,416.93 432.37,417.24 432.48,417.55 432.59,417.88 432.70,418.21 432.80,418.55 432.91,418.90 433.02,419.26 433.13,419.63 433.23,420.01 433.34,420.41 433.45,420.81 433.56,421.23 433.67,421.65 433.77,422.10 433.88,422.55 433.99,423.02 434.10,423.51 434.20,424.01 434.31,424.53 434.42,425.07 434.53,425.62 434.63,426.20 434.74,426.80 434.85,427.43 434.96,428.08 435.06,428.76 435.17,429.47 435.28,430.21 435.39,430.99 435.50,431.81 435.60,432.67 435.71,433.57 435.82,434.54 435.93,435.56 436.03,436.64 436.14,437.81 436.25,439.06 436.36,440.41 436.46,441.88 436.57,443.49 436.68,445.27 436.79,447.26 436.89,449.51 437.00,452.12 437.11,455.20 437.22,458.97 437.33,463.83 437.43,470.46 437.76,470.46 437.97,463.91 438.08,459.08 438.19,455.34 438.29,452.29 438.40,449.71 438.51,447.48 438.62,445.52 438.72,443.76 438.83,442.18 438.94,440.74 439.05,439.41 439.16,438.19 439.26,437.06 439.37,436.00 439.48,435.00 439.59,434.07 439.69,433.19 439.80,432.36 439.91,431.57 440.02,430.82 440.12,430.10 440.23,429.42 440.34,428.77 440.45,428.15 440.55,427.55 440.66,426.98 440.77,426.42 440.88,425.89 440.99,425.38 441.09,424.89 441.20,424.42 441.31,423.96 441.42,423.52 441.52,423.09 441.63,422.67 441.74,422.27 441.85,421.89 441.95,421.51 442.06,421.15 442.17,420.79 442.28,420.45 442.38,420.12 442.49,419.79 442.60,419.48 442.71,419.17 442.82,418.88 442.92,418.59 443.03,418.31 443.14,418.04 443.25,417.77 443.35,417.52 443.46,417.27 443.57,417.02 443.68,416.78 443.78,416.55 443.89,416.33 444.00,416.11 444.11,415.90 444.21,415.69 444.32,415.49 444.43,415.29 444.54,415.10 444.65,414.92 444.75,414.74 444.86,414.56 444.97,414.39 445.08,414.23 445.18,414.07 445.29,413.91 445.40,413.76 445.51,413.61 445.61,413.47 445.83,413.19 446.04,412.93 446.26,412.69 446.48,412.46 446.69,412.25 446.91,412.05 447.12,411.86 447.34,411.69 447.55,411.54 447.77,411.39 447.98,411.26 448.20,411.14 448.41,411.03 448.63,410.93 448.84,410.85 449.06,410.78 449.27,410.72 449.49,410.67 449.71,410.63 450.03,410.60 450.35,410.59 450.67,410.60 451.00,410.64 451.21,410.68 451.43,410.73 451.64,410.80 451.86,410.87 452.07,410.96 452.29,411.05 452.50,411.16 452.72,411.28 452.93,411.41 453.15,411.56 453.37,411.71 453.58,411.88 453.80,412.06 454.01,412.25 454.23,412.46 454.44,412.68 454.66,412.91 454.87,413.16 455.09,413.42 455.30,413.69 455.41,413.83 455.52,413.98 455.63,414.13 455.73,414.29 455.84,414.45 455.95,414.61 456.06,414.78 456.16,414.95 456.27,415.12 456.38,415.30 456.49,415.49 456.59,415.68 456.70,415.87 456.81,416.07 456.92,416.27 457.03,416.48 457.13,416.69 457.24,416.91 457.35,417.14 457.46,417.37 457.56,417.60 457.67,417.84 457.78,418.09 457.89,418.34 457.99,418.60 458.10,418.87 458.21,419.14 458.32,419.42 458.42,419.71 458.53,420.00 458.64,420.30 458.75,420.61 458.86,420.93 458.96,421.26 459.07,421.59 459.18,421.94 459.29,422.29 459.39,422.66 459.50,423.03 459.61,423.42 459.72,423.81 459.82,424.22 459.93,424.64 460.04,425.08 460.15,425.52 460.25,425.98 460.36,426.46 460.47,426.95 460.58,427.47 460.69,427.99 460.79,428.54 460.90,429.11 461.01,429.70 461.12,430.31 461.22,430.95 461.33,431.61 461.44,432.31 461.55,433.04 461.65,433.80 461.76,434.59 461.87,435.43 461.98,436.32 462.08,437.26 462.19,438.25 462.30,439.31 462.41,440.44 462.52,441.65 462.62,442.95 462.73,444.37 462.84,445.92 462.95,447.63 463.05,449.52 463.16,451.66 463.27,454.12 463.38,456.99 463.48,460.44 463.59,461.93 463.91,461.93 464.24,461.93 464.45,459.80 464.56,456.50 464.67,453.75 464.78,451.39 464.88,449.32 464.99,447.49 465.10,445.84 465.21,444.34 465.31,442.97 465.42,441.71 465.53,440.54 465.64,439.45 465.74,438.43 465.85,437.47 465.96,436.57 466.07,435.71 466.18,434.91 466.28,434.14 466.39,433.41 466.50,432.71 466.61,432.04 466.71,431.41 466.82,430.80 466.93,430.21 467.04,429.65 467.14,429.11 467.25,428.59 467.36,428.09 467.47,427.60 467.57,427.14 467.68,426.69 467.79,426.25 467.90,425.83 468.01,425.42 468.11,425.03 468.22,424.64 468.33,424.27 468.44,423.91 468.54,423.56 468.65,423.22 468.76,422.89 468.87,422.57 468.97,422.26 469.08,421.96 469.19,421.67 469.30,421.38 469.41,421.11 469.51,420.84 469.62,420.57 469.73,420.32 469.84,420.07 469.94,419.83 470.05,419.59 470.16,419.36 470.27,419.14 470.37,418.92 470.48,418.71 470.59,418.51 470.70,418.31 470.80,418.11 470.91,417.92 471.02,417.74 471.13,417.56 471.24,417.38 471.34,417.21 471.45,417.05 471.56,416.89 471.67,416.73 471.77,416.58 471.88,416.43 471.99,416.29 472.20,416.02 472.42,415.76 472.63,415.52 472.85,415.29 473.07,415.08 473.28,414.88 473.50,414.69 473.71,414.52 473.93,414.36 474.14,414.22 474.36,414.09 474.57,413.97 474.79,413.86 475.00,413.76 475.22,413.68 475.43,413.61 475.65,413.54 475.86,413.49 476.08,413.46 476.40,413.42 476.73,413.41 477.05,413.42 477.37,413.46 477.59,413.50 477.80,413.56 478.02,413.62 478.23,413.69 478.45,413.78 478.66,413.87 478.88,413.98 479.09,414.10 479.31,414.23 479.52,414.37 479.74,414.53 479.95,414.70 480.17,414.88 480.39,415.07 480.60,415.28 480.82,415.50 481.03,415.73 481.25,415.97 481.46,416.24 481.68,416.51 481.78,416.66 481.89,416.80 482.00,416.95 482.11,417.11 482.22,417.27 482.32,417.43 482.43,417.60 482.54,417.77 482.65,417.95 482.75,418.13 482.86,418.31 482.97,418.50 483.08,418.70 483.18,418.90 483.29,419.10 483.40,419.31 483.51,419.53 483.61,419.75 483.72,419.97 483.83,420.21 483.94,420.44 484.05,420.69 484.15,420.94 484.26,421.19 484.37,421.45 484.48,421.72 484.58,422.00 484.69,422.28 484.80,422.57 484.91,422.86 485.01,423.17 485.12,423.48 485.23,423.80 485.34,424.13 485.44,424.47 485.55,424.82 485.66,425.18 485.77,425.55 485.88,425.93 485.98,426.32 486.09,426.72 486.20,427.13 486.31,427.56 486.41,428.00 486.52,428.45 486.63,428.92 486.74,429.41 486.84,429.91 486.95,430.43 487.06,430.97 487.17,431.52 487.27,432.10 487.38,432.71 487.49,433.33 487.60,433.98 487.71,434.66 487.81,435.38 487.92,436.12 488.03,436.90 488.14,437.72 488.24,438.59 488.35,439.50 488.46,440.47 488.57,441.50 488.67,442.60 488.78,443.77 488.89,445.04 489.00,446.41 489.11,447.90 489.21,449.54 489.32,451.35 489.43,453.39 489.54,455.70 489.64,457.66 489.97,457.66 490.29,457.66 490.61,457.66 490.94,457.38 491.04,454.88 491.15,452.70 491.26,450.78 491.37,449.06 491.47,447.51 491.58,446.09 491.69,444.78 491.80,443.57 491.90,442.45 492.01,441.40 492.12,440.42 492.23,439.49 492.33,438.62 492.44,437.79 492.55,437.00 492.66,436.26 492.77,435.54 492.87,434.87 492.98,434.22 493.09,433.59 493.20,433.00 493.30,432.42 493.41,431.87 493.52,431.34 493.63,430.83 493.73,430.34 493.84,429.87 493.95,429.41 494.06,428.96 494.16,428.54 494.27,428.12 494.38,427.72 494.49,427.33 494.60,426.95 494.70,426.59 494.81,426.23 494.92,425.89 495.03,425.55 495.13,425.23 495.24,424.91 495.35,424.60 495.46,424.31 495.56,424.02 495.67,423.73 495.78,423.46 495.89,423.19 495.99,422.93 496.10,422.68 496.21,422.43 496.32,422.20 496.43,421.96 496.53,421.74 496.64,421.51 496.75,421.30 496.86,421.09 496.96,420.89 497.07,420.69 497.18,420.49 497.29,420.31 497.39,420.12 497.50,419.95 497.61,419.77 497.72,419.60 497.82,419.44 497.93,419.28 498.04,419.13 498.15,418.98 498.26,418.83 498.47,418.55 498.69,418.28 498.90,418.04 499.12,417.80 499.33,417.58 499.55,417.38 499.76,417.19 499.98,417.01 500.19,416.85 500.41,416.70 500.62,416.56 500.84,416.43 501.05,416.32 501.27,416.22 501.48,416.13 501.70,416.05 501.92,415.99 502.13,415.93 502.35,415.89 502.67,415.85 502.99,415.83 503.31,415.83 503.53,416.13 503.75,416.22 503.96,416.32 504.18,416.43 504.39,416.55 504.61,416.68 504.82,416.83 505.04,416.99 505.25,417.16 505.47,417.34 505.68,417.54 505.90,417.75 506.11,417.97 506.33,418.21 506.54,418.46 506.76,418.73 506.97,419.01 507.08,419.15 507.19,419.30 507.30,419.46 507.41,419.61 507.51,419.78 507.62,419.94 507.73,420.11 507.84,420.29 507.94,420.47 508.05,420.65 508.16,420.84 508.27,421.04 508.37,421.23 508.48,421.44 508.59,421.65 508.70,421.86 508.80,422.08 508.91,422.30 509.02,422.53 509.13,422.77 509.24,423.01 509.34,423.26 509.45,423.51 509.56,423.77 509.67,424.04 509.77,424.31 509.88,424.59 509.99,424.88 510.10,425.18 510.20,425.48 510.31,425.79 510.42,426.11 510.53,426.44 510.63,426.78 510.74,427.13 510.85,427.48 510.96,427.85 511.07,428.23 511.17,428.62 511.28,429.02 511.39,429.43 511.50,429.86 511.60,430.30 511.71,430.75 511.82,431.22 511.93,431.70 512.03,432.20 512.14,432.72 512.25,433.25 512.36,433.81 512.47,434.39 512.57,434.99 512.68,435.61 512.79,436.26 512.90,436.94 513.00,437.65 513.11,438.40 513.22,439.18 513.33,440.00 513.43,440.86 513.54,441.78 513.65,442.74 513.76,443.77 513.86,444.87 513.97,446.04 514.08,447.30 514.19,448.67 514.30,450.16 514.40,451.80 514.51,453.61 514.62,455.65 514.73,457.96 514.83,460.64 514.94,463.84 515.05,467.78 515.16,472.93 515.26,478.40 515.59,478.40 515.91,478.40 516.23,478.40 516.56,478.40 516.88,478.40 517.20,478.40 517.52,478.40 517.85,478.40 517.96,475.57 518.06,469.71 518.17,465.38 518.28,461.94 518.39,459.09 518.49,456.66 518.60,454.54 518.71,452.66 518.82,450.98 518.92,449.45 519.03,448.05 519.14,446.77 519.25,445.57 519.35,444.46 519.46,443.43 519.57,442.45 519.68,441.54 519.79,440.67 519.89,439.85 520.00,439.07 520.11,438.33 520.22,437.63 520.32,436.95 520.43,436.31 520.54,435.69 520.65,435.10 520.75,434.53 520.86,433.98 520.97,433.45 521.08,432.95 521.18,432.46 521.29,431.98 521.40,431.53" fill="none" stroke="#17177e" stroke-width="2.3" stroke-linejoin="round"/>
<rect x="90.8" y="362.6" width="430.6" height="115.8" fill="none" stroke="#1c1c1c" stroke-width="1.4"/>
<path d="M133.9 478.4v-3" stroke="#1c1c1c" stroke-width="1.2"/>
<text x="133.7" y="490.6" class="t" text-anchor="middle">-400</text>
<path d="M220.0 478.4v-3" stroke="#1c1c1c" stroke-width="1.2"/>
<text x="219.8" y="490.6" class="t" text-anchor="middle">-200</text>
<path d="M306.1 478.4v-3" stroke="#1c1c1c" stroke-width="1.2"/>
<text x="305.9" y="490.6" class="t" text-anchor="middle">0</text>
<path d="M392.2 478.4v-3" stroke="#1c1c1c" stroke-width="1.2"/>
<text x="392.0" y="490.6" class="t" text-anchor="middle">200</text>
<path d="M478.3 478.4v-3" stroke="#1c1c1c" stroke-width="1.2"/>
<text x="478.1" y="490.6" class="t" text-anchor="middle">400</text>
<path d="M176.9 478.4v-1.8" stroke="#1c1c1c" stroke-width="1.2"/>
<path d="M263.0 478.4v-1.8" stroke="#1c1c1c" stroke-width="1.2"/>
<path d="M349.2 478.4v-1.8" stroke="#1c1c1c" stroke-width="1.2"/>
<path d="M435.3 478.4v-1.8" stroke="#1c1c1c" stroke-width="1.2"/>
<text x="85.9" y="365.6" class="t" text-anchor="end">0</text>
<path d="M90.8 401.4h3" stroke="#1c1c1c" stroke-width="1.2"/>
<text x="85.9" y="404.4" class="t" text-anchor="end">-10</text>
<path d="M90.8 440.2h3" stroke="#1c1c1c" stroke-width="1.2"/>
<text x="85.9" y="443.2" class="t" text-anchor="end">-20</text>
<text x="85.9" y="482.0" class="t" text-anchor="end">-30</text>
<path d="M90.8 382.0h1.8" stroke="#1c1c1c" stroke-width="1.2"/>
<path d="M90.8 420.8h1.8" stroke="#1c1c1c" stroke-width="1.2"/>
<path d="M90.8 459.6h1.8" stroke="#1c1c1c" stroke-width="1.2"/>
<text x="241.8" y="509.4" class="l" textLength="128.7" lengthAdjust="spacingAndGlyphs">Offset frequency (kHz)</text>
<text transform="translate(63.6 498.4) rotate(-90)" class="l" textLength="155" lengthAdjust="spacingAndGlyphs">Normalized correlation(dB)</text>
<text x="16" y="356.5" class="p">(c)</text>
<path d="M445.9 373.5H468.3" stroke="#17177e" stroke-width="2.3"/>
<text y="377.3" class="l" style="font-size:12.3px"><tspan class="it" x="472.4" style="font-size:13px">τ</tspan><tspan x="480" textLength="35.5" lengthAdjust="spacingAndGlyphs">= 0 ns</tspan></text>
</svg>
</body></html>
